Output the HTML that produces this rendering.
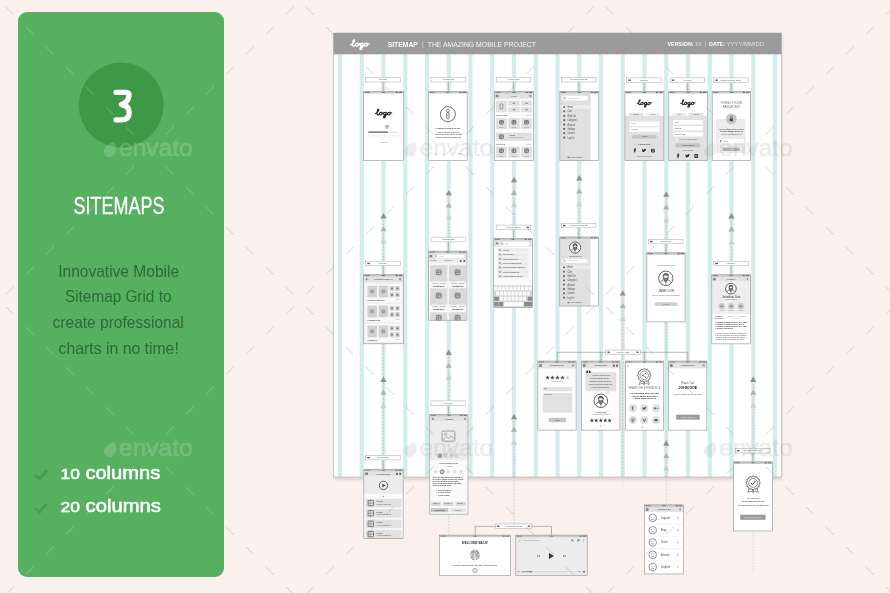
<!DOCTYPE html>
<html><head><meta charset="utf-8"><title>Sitemaps</title>
<style>
html,body{margin:0;padding:0;background:#faf1ee;}
body{width:890px;height:593px;overflow:hidden;font-family:"Liberation Sans",sans-serif;}
svg{display:block;will-change:transform}
</style></head><body>
<svg width="890" height="593" viewBox="0 0 890 593">
<defs>
<filter id="bs" x="-5%" y="-5%" width="110%" height="110%"><feGaussianBlur stdDeviation="1.6"/></filter>
</defs>
<rect x="0" y="0" width="890" height="593" fill="#faf1ee"/>
<rect x="18" y="12" width="206" height="565" fill="#57b060" rx="9"/>
<circle cx="121.2" cy="104.9" r="42.5" fill="#3d9946"/>
<path d="M116,92.3 L126.3,92.3 Q129.4,92.3 129,95.4 Q128.2,102.8 121.4,104.5 Q129.5,105.6 129.2,112.8 Q128.9,119.8 121.6,119.8 L116,119.8" fill="none" stroke="#fff" stroke-width="5.3" stroke-linecap="round" stroke-linejoin="round"/>
<text x="73.6" y="214.2" font-family="Liberation Sans" font-size="23.4" fill="#fff" font-weight="normal" font-style="normal" text-anchor="start" textLength="90.8" lengthAdjust="spacingAndGlyphs" stroke="#fff" stroke-width="0.3">SITEMAPS</text>
<text id="p0" x="58.2" y="276.70" font-family="Liberation Sans" font-size="16.6" fill="#2e6a36" textLength="120.9" lengthAdjust="spacingAndGlyphs">Innovative Mobile</text>
<text id="p1" x="65" y="302.45" font-family="Liberation Sans" font-size="16.6" fill="#2e6a36" textLength="106.4" lengthAdjust="spacingAndGlyphs">Sitemap Grid to</text>
<text id="p2" x="52.6" y="328.20" font-family="Liberation Sans" font-size="16.6" fill="#2e6a36" textLength="131.2" lengthAdjust="spacingAndGlyphs">create professional</text>
<text id="p3" x="58.6" y="353.95" font-family="Liberation Sans" font-size="16.6" fill="#2e6a36" textLength="120.2" lengthAdjust="spacingAndGlyphs">charts in no time!</text>
<text id="b0" x="60.5" y="478.8" font-family="Liberation Sans" fill="#fff" stroke="#fff" stroke-width="0.55" font-size="17.6" textLength="99.7" lengthAdjust="spacingAndGlyphs"><tspan font-size="15.2">10</tspan> columns</text>
<path d="M35.6,475.4 L39.6,478.7 L46.2,471.2" fill="none" stroke="#4a994f" stroke-width="2.6" stroke-linecap="round" stroke-linejoin="round"/>
<text id="b1" x="60.5" y="512.2" font-family="Liberation Sans" fill="#fff" stroke="#fff" stroke-width="0.55" font-size="17.6" textLength="100.5" lengthAdjust="spacingAndGlyphs"><tspan font-size="15.2">20</tspan> columns</text>
<path d="M35.6,508.8 L39.6,512.1 L46.2,504.6" fill="none" stroke="#4a994f" stroke-width="2.6" stroke-linecap="round" stroke-linejoin="round"/>
<rect x="334" y="35.5" width="448" height="444" fill="#8a7f7a" opacity="0.3" filter="url(#bs)"/>
<rect x="333.5" y="33" width="448" height="444" fill="#fff"/>
<rect x="337.9" y="54" width="4.2" height="423" fill="#d6ecec"/>
<rect x="359.65" y="54" width="4.2" height="423" fill="#d6ecec"/>
<rect x="381.4" y="54" width="4.2" height="423" fill="#d6ecec"/>
<rect x="403.15" y="54" width="4.2" height="423" fill="#d6ecec"/>
<rect x="424.9" y="54" width="4.2" height="423" fill="#d6ecec"/>
<rect x="446.65" y="54" width="4.2" height="423" fill="#d6ecec"/>
<rect x="468.4" y="54" width="4.2" height="423" fill="#d6ecec"/>
<rect x="490.15" y="54" width="4.2" height="423" fill="#d6ecec"/>
<rect x="511.9" y="54" width="4.2" height="423" fill="#d6ecec"/>
<rect x="533.65" y="54" width="4.2" height="423" fill="#d6ecec"/>
<rect x="555.4" y="54" width="4.2" height="423" fill="#d6ecec"/>
<rect x="577.15" y="54" width="4.2" height="423" fill="#d6ecec"/>
<rect x="598.9" y="54" width="4.2" height="423" fill="#d6ecec"/>
<rect x="620.65" y="54" width="4.2" height="423" fill="#d6ecec"/>
<rect x="642.4" y="54" width="4.2" height="423" fill="#d6ecec"/>
<rect x="664.15" y="54" width="4.2" height="423" fill="#d6ecec"/>
<rect x="685.9" y="54" width="4.2" height="423" fill="#d6ecec"/>
<rect x="707.65" y="54" width="4.2" height="423" fill="#d6ecec"/>
<rect x="729.4" y="54" width="4.2" height="423" fill="#d6ecec"/>
<rect x="751.15" y="54" width="4.2" height="423" fill="#d6ecec"/>
<rect x="772.9" y="54" width="4.2" height="423" fill="#d6ecec"/>
<rect x="333.5" y="33" width="448" height="444" fill="none" stroke="#c4c0be" stroke-width="0.8"/>
<rect x="333.5" y="33" width="448" height="21.3" fill="#9b9b9b"/>
<text x="387.7" y="47.3" font-family="Liberation Sans" font-size="7.3" fill="#fff" font-weight="bold" font-style="normal" text-anchor="start" textLength="30.1" lengthAdjust="spacingAndGlyphs">SITEMAP</text>
<rect x="422.5" y="41.2" width="0.6" height="6.6" fill="#d8d8d8"/>
<text x="427.7" y="47.3" font-family="Liberation Sans" font-size="7.3" fill="#f7f7f7" font-weight="normal" font-style="normal" text-anchor="start" textLength="108.3" lengthAdjust="spacingAndGlyphs">THE AMAZING MOBILE PROJECT</text>
<text x="667.5" y="46.1" font-family="Liberation Sans" font-size="5.8" fill="#fff" font-weight="bold" font-style="normal" text-anchor="start" textLength="26.1" lengthAdjust="spacingAndGlyphs">VERSION:</text>
<text x="695.3" y="46.1" font-family="Liberation Sans" font-size="5.8" fill="#e4e4e4" font-weight="normal" font-style="normal" text-anchor="start" textLength="6.2" lengthAdjust="spacingAndGlyphs">XX</text>
<rect x="705.1" y="41.4" width="0.6" height="5.4" fill="#dcdcdc"/>
<text x="709.1" y="46.1" font-family="Liberation Sans" font-size="5.8" fill="#fff" font-weight="bold" font-style="normal" text-anchor="start" textLength="16" lengthAdjust="spacingAndGlyphs">DATE:</text>
<text x="726.8" y="46.1" font-family="Liberation Sans" font-size="5.8" fill="#e4e4e4" font-weight="normal" font-style="normal" text-anchor="start" textLength="37.1" lengthAdjust="spacingAndGlyphs">YYYY/MM/DD</text>
<line x1="383.5" y1="214" x2="383.5" y2="261.2" stroke="#a4a4a4" stroke-width="0.5" stroke-dasharray="1.8 1.4"/>
<line x1="383.5" y1="343.7" x2="383.5" y2="455.3" stroke="#a4a4a4" stroke-width="0.5" stroke-dasharray="1.8 1.4"/>
<line x1="448.75" y1="191" x2="448.75" y2="237.1" stroke="#a4a4a4" stroke-width="0.5" stroke-dasharray="1.8 1.4"/>
<line x1="448.75" y1="350.5" x2="448.75" y2="400.8" stroke="#a4a4a4" stroke-width="0.5" stroke-dasharray="1.8 1.4"/>
<line x1="448.75" y1="514.5" x2="448.75" y2="534.8" stroke="#b3aba8" stroke-width="0.5" stroke-dasharray="1.8 1.4"/>
<line x1="514" y1="178" x2="514" y2="225.1" stroke="#a4a4a4" stroke-width="0.5" stroke-dasharray="1.8 1.4"/>
<line x1="514" y1="414.5" x2="514" y2="477" stroke="#a4a4a4" stroke-width="0.5" stroke-dasharray="1.8 1.4"/>
<line x1="514" y1="477" x2="514" y2="524" stroke="#b3aba8" stroke-width="0.5" stroke-dasharray="1.8 1.4"/>
<line x1="579.25" y1="176" x2="579.25" y2="223.3" stroke="#a4a4a4" stroke-width="0.5" stroke-dasharray="1.8 1.4"/>
<line x1="666.25" y1="192.5" x2="666.25" y2="239.3" stroke="#a4a4a4" stroke-width="0.5" stroke-dasharray="1.8 1.4"/>
<line x1="666.25" y1="322.2" x2="666.25" y2="360" stroke="#a4a4a4" stroke-width="0.5" stroke-dasharray="1.8 1.4"/>
<line x1="666.25" y1="430.3" x2="666.25" y2="477" stroke="#a4a4a4" stroke-width="0.5" stroke-dasharray="1.8 1.4"/>
<line x1="666.25" y1="477" x2="666.25" y2="504.5" stroke="#b3aba8" stroke-width="0.5" stroke-dasharray="1.8 1.4"/>
<line x1="731.5" y1="214" x2="731.5" y2="261.2" stroke="#a4a4a4" stroke-width="0.5" stroke-dasharray="1.8 1.4"/>
<line x1="622.75" y1="291" x2="622.75" y2="477" stroke="#a4a4a4" stroke-width="0.5" stroke-dasharray="1.8 1.4"/>
<line x1="622.75" y1="477" x2="622.75" y2="487" stroke="#cfc7c4" stroke-width="0.5" stroke-dasharray="1.8 1.4"/>
<line x1="753.25" y1="377" x2="753.25" y2="448.5" stroke="#a4a4a4" stroke-width="0.5" stroke-dasharray="1.8 1.4"/>
<line x1="753.25" y1="530.3" x2="753.25" y2="572" stroke="#c4bcb9" stroke-width="0.5" stroke-dasharray="1.8 1.4"/>
<path d="M383.5,213.1 L386.6,218.5 L380.4,218.5 Z" fill="#8f8f8f" />
<path d="M383.5,225.9 L386.6,231.3 L380.4,231.3 Z" fill="#b2b2b2" />
<path d="M383.5,238.1 L386.6,243.5 L380.4,243.5 Z" fill="#d0d0d0" />
<path d="M383.5,376.6 L386.6,382 L380.4,382 Z" fill="#8f8f8f" />
<path d="M383.5,389.4 L386.6,394.8 L380.4,394.8 Z" fill="#b2b2b2" />
<path d="M383.5,402.7 L386.6,408.1 L380.4,408.1 Z" fill="#d0d0d0" />
<path d="M448.75,189.9 L451.85,195.3 L445.65,195.3 Z" fill="#8f8f8f" />
<path d="M448.75,202.2 L451.85,207.6 L445.65,207.6 Z" fill="#b2b2b2" />
<path d="M448.75,214 L451.85,219.4 L445.65,219.4 Z" fill="#d0d0d0" />
<path d="M448.75,349.6 L451.85,355 L445.65,355 Z" fill="#8f8f8f" />
<path d="M448.75,362.4 L451.85,367.8 L445.65,367.8 Z" fill="#b2b2b2" />
<path d="M448.75,374.3 L451.85,379.7 L445.65,379.7 Z" fill="#d0d0d0" />
<path d="M514,176.8 L517.1,182.2 L510.9,182.2 Z" fill="#8f8f8f" />
<path d="M514,189.7 L517.1,195.1 L510.9,195.1 Z" fill="#b2b2b2" />
<path d="M514,201.7 L517.1,207.1 L510.9,207.1 Z" fill="#d0d0d0" />
<path d="M514,413.9 L517.1,419.3 L510.9,419.3 Z" fill="#8f8f8f" />
<path d="M514,426.4 L517.1,431.8 L510.9,431.8 Z" fill="#b2b2b2" />
<path d="M514,439.2 L517.1,444.6 L510.9,444.6 Z" fill="#d0d0d0" />
<path d="M579.25,175 L582.35,180.4 L576.15,180.4 Z" fill="#8f8f8f" />
<path d="M579.25,188.2 L582.35,193.6 L576.15,193.6 Z" fill="#b2b2b2" />
<path d="M579.25,201 L582.35,206.4 L576.15,206.4 Z" fill="#d0d0d0" />
<path d="M666.25,191.4 L669.35,196.8 L663.15,196.8 Z" fill="#8f8f8f" />
<path d="M666.25,204.1 L669.35,209.5 L663.15,209.5 Z" fill="#b2b2b2" />
<path d="M666.25,216.9 L669.35,222.3 L663.15,222.3 Z" fill="#d0d0d0" />
<path d="M666.25,440.3 L669.35,445.7 L663.15,445.7 Z" fill="#8f8f8f" />
<path d="M666.25,452.9 L669.35,458.3 L663.15,458.3 Z" fill="#b2b2b2" />
<path d="M666.25,465.4 L669.35,470.8 L663.15,470.8 Z" fill="#d0d0d0" />
<path d="M731.5,213 L734.6,218.4 L728.4,218.4 Z" fill="#8f8f8f" />
<path d="M731.5,226 L734.6,231.4 L728.4,231.4 Z" fill="#b2b2b2" />
<path d="M731.5,238.8 L734.6,244.2 L728.4,244.2 Z" fill="#d0d0d0" />
<path d="M622.75,290.2 L625.85,295.6 L619.65,295.6 Z" fill="#8f8f8f" />
<path d="M622.75,302.9 L625.85,308.3 L619.65,308.3 Z" fill="#b2b2b2" />
<path d="M622.75,315.6 L625.85,321 L619.65,321 Z" fill="#d0d0d0" />
<path d="M753.25,376.5 L756.35,381.9 L750.15,381.9 Z" fill="#8f8f8f" />
<path d="M753.25,389.3 L756.35,394.7 L750.15,394.7 Z" fill="#b2b2b2" />
<path d="M753.25,402.3 L756.35,407.7 L750.15,407.7 Z" fill="#d0d0d0" />
<line x1="557.2" y1="352.3" x2="687.8" y2="352.3" stroke="#8c8c8c" stroke-width="0.6"/>
<line x1="557.2" y1="352.3" x2="557.2" y2="360.7" stroke="#8c8c8c" stroke-width="0.6"/>
<line x1="600.9" y1="352.3" x2="600.9" y2="360.7" stroke="#8c8c8c" stroke-width="0.6"/>
<line x1="644.3" y1="352.3" x2="644.3" y2="360.7" stroke="#8c8c8c" stroke-width="0.6"/>
<line x1="687.8" y1="352.3" x2="687.8" y2="360.7" stroke="#8c8c8c" stroke-width="0.6"/>
<line x1="475.2" y1="526.4" x2="551.5" y2="526.4" stroke="#8c8c8c" stroke-width="0.6"/>
<line x1="475.2" y1="526.4" x2="475.2" y2="534.8" stroke="#8c8c8c" stroke-width="0.6"/>
<line x1="551.5" y1="526.4" x2="551.5" y2="534.8" stroke="#8c8c8c" stroke-width="0.6"/>
<line x1="383.1" y1="82" x2="383.1" y2="91.1" stroke="#8c8c8c" stroke-width="0.6"/>
<rect x="365.65" y="77.4" width="34.6" height="4.6" fill="#fff" stroke="#adadad" stroke-width="0.55"/>
<text x="378.95" y="80.37" font-family="Liberation Sans" font-size="2.5" font-weight="bold" fill="#7c7c7c" textLength="8" lengthAdjust="spacingAndGlyphs">Lorem</text>
<g transform="translate(363.3,91.1)">
<rect x="0.2" y="0.2" width="40" height="69.4" fill="#fff"/>
<path d="M0.3,4.7 C1.8,4.3 3.7,1.7 3.6,0.7 C3.5,-0.1 2.7,0.3 2.4,1.5 C1.9,3.3 1.6,5.6 2.6,5.9 C3.2,6.1 3.8,5.6 4.2,5.0 M6.6,3.4 C5.2,2.8 4.0,4.2 4.4,5.4 C4.8,6.4 6.6,6.0 7.0,4.6 C7.2,3.8 6.8,3.3 6.4,3.4 C6.6,4.2 7.6,4.3 8.4,3.9 M10.9,3.5 C9.6,2.8 8.2,4.0 8.5,5.2 C8.8,6.3 10.4,5.9 10.9,4.4 L11.1,3.4 C10.9,5.0 10.7,7.4 9.8,8.5 C9.0,9.3 8.1,8.6 8.6,7.6 C9.2,6.6 11.4,6.0 12.4,5.0 M14.7,3.4 C13.3,2.8 12.1,4.2 12.5,5.4 C12.9,6.4 14.7,6.0 15.1,4.6 C15.3,3.8 14.9,3.3 14.5,3.4 C14.7,4.2 15.7,4.3 16.6,3.8" transform="translate(11.8,17.9) scale(1)" fill="none" stroke="#222" stroke-width="1.15" stroke-linecap="round" stroke-linejoin="round"/>
<circle cx="23.8" cy="35.7" r="2.3" fill="#c4c4c4"/>
<rect x="23" y="35.35" width="1.6" height="0.7" fill="#888"/>
<rect x="5.1" y="40.4" width="19.4" height="1.2" fill="#555"/>
<rect x="24.5" y="40.6" width="10.6" height="0.8" fill="#cfcfcf"/>
<line x1="5.3" y1="43.8" x2="5.3" y2="46.3" stroke="#c4c4c4" stroke-width="0.4"/>
<line x1="8" y1="43.8" x2="8" y2="46.3" stroke="#c4c4c4" stroke-width="0.4"/>
<line x1="10.7" y1="43.8" x2="10.7" y2="46.3" stroke="#c4c4c4" stroke-width="0.4"/>
<line x1="13.4" y1="43.8" x2="13.4" y2="46.3" stroke="#c4c4c4" stroke-width="0.4"/>
<line x1="16.1" y1="43.8" x2="16.1" y2="46.3" stroke="#c4c4c4" stroke-width="0.4"/>
<line x1="18.8" y1="43.8" x2="18.8" y2="46.3" stroke="#c4c4c4" stroke-width="0.4"/>
<line x1="21.5" y1="43.8" x2="21.5" y2="46.3" stroke="#c4c4c4" stroke-width="0.4"/>
<line x1="24.2" y1="43.8" x2="24.2" y2="46.3" stroke="#c4c4c4" stroke-width="0.4"/>
<line x1="26.9" y1="43.8" x2="26.9" y2="46.3" stroke="#c4c4c4" stroke-width="0.4"/>
<line x1="29.6" y1="43.8" x2="29.6" y2="46.3" stroke="#c4c4c4" stroke-width="0.4"/>
<line x1="32.3" y1="43.8" x2="32.3" y2="46.3" stroke="#c4c4c4" stroke-width="0.4"/>
<line x1="35" y1="43.8" x2="35" y2="46.3" stroke="#c4c4c4" stroke-width="0.4"/>
<text x="16" y="51.42" font-family="Liberation Sans" font-size="2.29" font-weight="bold" fill="#9a9a9a" textLength="8.5" lengthAdjust="spacingAndGlyphs">Lorem i</text>
<rect x="0.3" y="0.3" width="39.8" height="2.1" fill="#c9c9c9"/>
<rect x="1.4" y="0.8" width="5.2" height="0.9" fill="#777"/>
<rect x="18.6" y="0.8" width="3.2" height="0.9" fill="#666"/>
<rect x="32.4" y="0.75" width="2" height="1" fill="#555"/>
<rect x="35.6" y="0.75" width="3.2" height="1" fill="#666"/>
<rect x="0.35" y="0.35" width="39.7" height="69.1" fill="none" stroke="#a0a0a0" stroke-width="0.7"/>
</g>
<line x1="448.35" y1="82" x2="448.35" y2="91.1" stroke="#8c8c8c" stroke-width="0.6"/>
<rect x="430.9" y="77.4" width="34.6" height="4.6" fill="#fff" stroke="#adadad" stroke-width="0.55"/>
<text x="442.2" y="80.37" font-family="Liberation Sans" font-size="2.5" font-weight="bold" fill="#7c7c7c" textLength="12" lengthAdjust="spacingAndGlyphs">Lorem ipsu</text>
<g transform="translate(428.3,91.1)">
<rect x="0.2" y="0.2" width="38.8" height="69.4" fill="#fff"/>
<circle cx="19.6" cy="23.1" r="7.5" fill="#fff" stroke="#333" stroke-width="0.7"/>
<rect x="18.5" y="18.2" width="2.2" height="3.2" fill="none" rx="1" stroke="#333" stroke-width="0.55"/>
<rect x="18.3" y="21.6" width="2.6" height="6.2" fill="none" rx="1.2" stroke="#333" stroke-width="0.55"/>
<line x1="19.6" y1="23" x2="19.6" y2="26" stroke="#333" stroke-width="0.4"/>
<circle cx="8.5" cy="17" r="0.35" fill="#c8c8c8"/>
<circle cx="10" cy="25" r="0.35" fill="#c8c8c8"/>
<circle cx="11.5" cy="31" r="0.35" fill="#c8c8c8"/>
<circle cx="28.5" cy="15.5" r="0.35" fill="#c8c8c8"/>
<circle cx="30.5" cy="22" r="0.35" fill="#c8c8c8"/>
<circle cx="29" cy="30" r="0.35" fill="#c8c8c8"/>
<circle cx="14" cy="13.5" r="0.35" fill="#c8c8c8"/>
<circle cx="25" cy="33" r="0.35" fill="#c8c8c8"/>
<text x="7.3" y="37.61" font-family="Liberation Sans" font-size="2.25" font-weight="bold" fill="#3a3a3a" textLength="24.6" lengthAdjust="spacingAndGlyphs">LOREM IPSUM DOLOR</text>
<text x="8.5" y="41.52" font-family="Liberation Sans" font-size="2.29" font-weight="bold" fill="#555" textLength="22.5" lengthAdjust="spacingAndGlyphs">Lorem ipsum dolor si</text>
<text x="6.4" y="44.12" font-family="Liberation Sans" font-size="2.29" font-weight="bold" fill="#555" textLength="27.6" lengthAdjust="spacingAndGlyphs">Lorem ipsum dolor sit am</text>
<text x="7" y="46.92" font-family="Liberation Sans" font-size="2.29" font-weight="bold" fill="#555" textLength="25.5" lengthAdjust="spacingAndGlyphs">Lorem ipsum dolor sit</text>
<rect x="6.3" y="62.35" width="2" height="0.7" fill="#bbb"/>
<circle cx="16.6" cy="62.7" r="0.5" fill="#999"/>
<rect x="30" y="62.35" width="2.6" height="0.7" fill="#999"/>
<rect x="0.3" y="0.3" width="38.6" height="2.1" fill="#c9c9c9"/>
<rect x="1.4" y="0.8" width="5.2" height="0.9" fill="#777"/>
<rect x="18" y="0.8" width="3.2" height="0.9" fill="#666"/>
<rect x="31.2" y="0.75" width="2" height="1" fill="#555"/>
<rect x="34.4" y="0.75" width="3.2" height="1" fill="#666"/>
<rect x="0.35" y="0.35" width="38.5" height="69.1" fill="none" stroke="#a0a0a0" stroke-width="0.7"/>
</g>
<line x1="513.6" y1="82" x2="513.6" y2="91.1" stroke="#8c8c8c" stroke-width="0.6"/>
<rect x="496.15" y="77.4" width="34.6" height="4.6" fill="#fff" stroke="#adadad" stroke-width="0.55"/>
<text x="507.45" y="80.37" font-family="Liberation Sans" font-size="2.5" font-weight="bold" fill="#7c7c7c" textLength="12" lengthAdjust="spacingAndGlyphs">Lorem ipsu</text>
<g transform="translate(494.1,91.1)">
<rect x="0.2" y="0.2" width="39.2" height="69.4" fill="#fbfbfb"/>
<rect x="0" y="2.2" width="39.6" height="5.4" fill="#e2e2e2"/>
<rect x="1.7" y="3.78" width="2.6" height="0.55" fill="#444"/>
<rect x="1.7" y="4.62" width="2.6" height="0.55" fill="#444"/>
<rect x="1.7" y="5.47" width="2.6" height="0.55" fill="#444"/>
<text x="17.3" y="5.67" font-family="Liberation Sans" font-size="2.15" font-weight="bold" fill="#5c5c5c" textLength="5" lengthAdjust="spacingAndGlyphs">LORE</text>
<circle cx="36" cy="4.7" r="0.8" fill="none" stroke="#555" stroke-width="0.45"/>
<line x1="36.6" y1="5.3" x2="37.3" y2="6" stroke="#555" stroke-width="0.5"/>
<rect x="1.9" y="9.6" width="10.9" height="11.5" fill="#e0e0e0"/>
<rect x="6" y="12.8" width="2.7" height="5" fill="none" rx="0.7" stroke="#666" stroke-width="0.6"/>
<rect x="14.1" y="9.6" width="11.5" height="5.1" fill="#e0e0e0"/>
<rect x="18.65" y="11.55" width="2.4" height="1.2" fill="#8a8a8a"/>
<rect x="14.1" y="16" width="11.5" height="5.1" fill="#e0e0e0"/>
<rect x="18.65" y="17.95" width="2.4" height="1.2" fill="#8a8a8a"/>
<rect x="27" y="9.6" width="10.8" height="5.1" fill="#e0e0e0"/>
<rect x="31.2" y="11.55" width="2.4" height="1.2" fill="#8a8a8a"/>
<rect x="27" y="16" width="10.8" height="5.1" fill="#e0e0e0"/>
<rect x="31.2" y="17.95" width="2.4" height="1.2" fill="#8a8a8a"/>
<text x="1.85" y="25.02" font-family="Liberation Sans" font-size="2.29" font-weight="bold" fill="#666" textLength="11.15" lengthAdjust="spacingAndGlyphs">Lorem ipsu</text>
<text x="32" y="24.88" font-family="Liberation Sans" font-size="1.78" font-weight="bold" fill="#bcbcbc" textLength="5" lengthAdjust="spacingAndGlyphs">Lorem</text>
<rect x="1.9" y="27" width="10.9" height="10.9" fill="#e0e0e0"/>
<rect x="5.5" y="29.35" width="3.7" height="3.7" fill="none" rx="0.44" stroke="#555" stroke-width="0.7"/>
<line x1="5.5" y1="31.38" x2="9.2" y2="31.38" stroke="#555" stroke-width="0.56"/>
<line x1="6.91" y1="29.35" x2="6.91" y2="33.05" stroke="#555" stroke-width="0.56"/>
<line x1="6.91" y1="30.46" x2="9.2" y2="30.46" stroke="#555" stroke-width="0.49"/>
<text x="5.15" y="36.68" font-family="Liberation Sans" font-size="1.78" font-weight="bold" fill="#888" textLength="4.4" lengthAdjust="spacingAndGlyphs">Lorem</text>
<rect x="14.1" y="27" width="11.5" height="10.9" fill="#e0e0e0"/>
<rect x="18" y="29.35" width="3.7" height="3.7" fill="none" rx="0.44" stroke="#555" stroke-width="0.7"/>
<line x1="18" y1="31.38" x2="21.7" y2="31.38" stroke="#555" stroke-width="0.56"/>
<line x1="19.41" y1="29.35" x2="19.41" y2="33.05" stroke="#555" stroke-width="0.56"/>
<line x1="19.41" y1="30.46" x2="21.7" y2="30.46" stroke="#555" stroke-width="0.49"/>
<text x="17.65" y="36.68" font-family="Liberation Sans" font-size="1.78" font-weight="bold" fill="#888" textLength="4.4" lengthAdjust="spacingAndGlyphs">Lorem</text>
<rect x="27" y="27" width="10.8" height="10.9" fill="#e0e0e0"/>
<rect x="30.55" y="29.35" width="3.7" height="3.7" fill="none" rx="0.44" stroke="#555" stroke-width="0.7"/>
<line x1="30.55" y1="31.38" x2="34.25" y2="31.38" stroke="#555" stroke-width="0.56"/>
<line x1="31.96" y1="29.35" x2="31.96" y2="33.05" stroke="#555" stroke-width="0.56"/>
<line x1="31.96" y1="30.46" x2="34.25" y2="30.46" stroke="#555" stroke-width="0.49"/>
<text x="30.2" y="36.68" font-family="Liberation Sans" font-size="1.78" font-weight="bold" fill="#888" textLength="4.4" lengthAdjust="spacingAndGlyphs">Lorem</text>
<rect x="1.9" y="41.6" width="35.9" height="8.1" fill="#e0e0e0"/>
<rect x="5.35" y="43.65" width="3.9" height="3.9" fill="none" rx="0.47" stroke="#555" stroke-width="0.7"/>
<line x1="5.35" y1="45.8" x2="9.25" y2="45.8" stroke="#555" stroke-width="0.56"/>
<line x1="6.83" y1="43.65" x2="6.83" y2="47.55" stroke="#555" stroke-width="0.56"/>
<line x1="6.83" y1="44.82" x2="9.25" y2="44.82" stroke="#555" stroke-width="0.49"/>
<text x="15.5" y="45.22" font-family="Liberation Sans" font-size="2.29" font-weight="bold" fill="#555" textLength="5.5" lengthAdjust="spacingAndGlyphs">Lorem</text>
<text x="15.5" y="47.28" font-family="Liberation Sans" font-size="1.78" font-weight="bold" fill="#999" textLength="13.5" lengthAdjust="spacingAndGlyphs">Lorem ipsum dol</text>
<text x="1.85" y="53.72" font-family="Liberation Sans" font-size="2.29" font-weight="bold" fill="#666" textLength="9.15" lengthAdjust="spacingAndGlyphs">Lorem ip</text>
<text x="32" y="53.58" font-family="Liberation Sans" font-size="1.78" font-weight="bold" fill="#bcbcbc" textLength="5" lengthAdjust="spacingAndGlyphs">Lorem</text>
<rect x="1.9" y="55.6" width="10.9" height="11" fill="#e0e0e0"/>
<rect x="5.5" y="57.75" width="3.7" height="3.7" fill="none" rx="0.44" stroke="#555" stroke-width="0.7"/>
<line x1="5.5" y1="59.79" x2="9.2" y2="59.79" stroke="#555" stroke-width="0.56"/>
<line x1="6.91" y1="57.75" x2="6.91" y2="61.45" stroke="#555" stroke-width="0.56"/>
<line x1="6.91" y1="58.86" x2="9.2" y2="58.86" stroke="#555" stroke-width="0.49"/>
<text x="5.15" y="65.48" font-family="Liberation Sans" font-size="1.78" font-weight="bold" fill="#888" textLength="4.4" lengthAdjust="spacingAndGlyphs">Lorem</text>
<rect x="14.1" y="55.6" width="11.5" height="11" fill="#e0e0e0"/>
<rect x="18" y="57.75" width="3.7" height="3.7" fill="none" rx="0.44" stroke="#555" stroke-width="0.7"/>
<line x1="18" y1="59.79" x2="21.7" y2="59.79" stroke="#555" stroke-width="0.56"/>
<line x1="19.41" y1="57.75" x2="19.41" y2="61.45" stroke="#555" stroke-width="0.56"/>
<line x1="19.41" y1="58.86" x2="21.7" y2="58.86" stroke="#555" stroke-width="0.49"/>
<text x="17.65" y="65.48" font-family="Liberation Sans" font-size="1.78" font-weight="bold" fill="#888" textLength="4.4" lengthAdjust="spacingAndGlyphs">Lorem</text>
<rect x="27" y="55.6" width="10.8" height="11" fill="#e0e0e0"/>
<rect x="30.55" y="57.75" width="3.7" height="3.7" fill="none" rx="0.44" stroke="#555" stroke-width="0.7"/>
<line x1="30.55" y1="59.79" x2="34.25" y2="59.79" stroke="#555" stroke-width="0.56"/>
<line x1="31.96" y1="57.75" x2="31.96" y2="61.45" stroke="#555" stroke-width="0.56"/>
<line x1="31.96" y1="58.86" x2="34.25" y2="58.86" stroke="#555" stroke-width="0.49"/>
<text x="30.2" y="65.48" font-family="Liberation Sans" font-size="1.78" font-weight="bold" fill="#888" textLength="4.4" lengthAdjust="spacingAndGlyphs">Lorem</text>
<rect x="0.3" y="0.3" width="39" height="2.1" fill="#c9c9c9"/>
<rect x="1.4" y="0.8" width="5.2" height="0.9" fill="#777"/>
<rect x="18.2" y="0.8" width="3.2" height="0.9" fill="#666"/>
<rect x="31.6" y="0.75" width="2" height="1" fill="#555"/>
<rect x="34.8" y="0.75" width="3.2" height="1" fill="#666"/>
<rect x="0.35" y="0.35" width="38.9" height="69.1" fill="none" stroke="#a0a0a0" stroke-width="0.7"/>
</g>
<line x1="578.85" y1="82" x2="578.85" y2="91.1" stroke="#8c8c8c" stroke-width="0.6"/>
<rect x="561.4" y="77.4" width="34.6" height="4.6" fill="#fff" stroke="#adadad" stroke-width="0.55"/>
<text x="570.2" y="80.37" font-family="Liberation Sans" font-size="2.5" font-weight="bold" fill="#7c7c7c" textLength="17" lengthAdjust="spacingAndGlyphs">Lorem ipsum do</text>
<g transform="translate(559.5,91.1)">
<rect x="0.2" y="0.2" width="39.2" height="69.4" fill="#fff"/>
<rect x="0" y="2.2" width="31.3" height="67.6" fill="#e0e0e0"/>
<rect x="2.2" y="4.7" width="26.1" height="4.6" fill="#fff" rx="2.3"/>
<circle cx="4.8" cy="6.8" r="0.8" fill="none" stroke="#666" stroke-width="0.45"/>
<line x1="5.4" y1="7.4" x2="6.1" y2="8.1" stroke="#666" stroke-width="0.5"/>
<text x="8" y="7.55" font-family="Liberation Sans" font-size="2.04" font-weight="bold" fill="#c4c4c4" textLength="12" lengthAdjust="spacingAndGlyphs">Lorem ipsum</text>
<rect x="0" y="14" width="31.3" height="4" fill="#ececec"/>
<rect x="3.8" y="15.1" width="1.8" height="1.8" fill="#555" rx="0.4"/>
<text x="8.1" y="17.2" font-family="Liberation Sans" font-size="2.55" fill="#4a4a4a" font-weight="normal" font-style="normal" text-anchor="start" textLength="5.4" lengthAdjust="spacingAndGlyphs">Home</text>
<rect x="3.8" y="19.3" width="1.8" height="1.8" fill="#555" rx="0.4"/>
<text x="8.1" y="21.4" font-family="Liberation Sans" font-size="2.55" fill="#4a4a4a" font-weight="normal" font-style="normal" text-anchor="start" textLength="4.2" lengthAdjust="spacingAndGlyphs">Cart</text>
<rect x="3.8" y="23.9" width="1.8" height="1.8" fill="#555" rx="0.4"/>
<text x="8.1" y="26" font-family="Liberation Sans" font-size="2.55" fill="#4a4a4a" font-weight="normal" font-style="normal" text-anchor="start" textLength="8.2" lengthAdjust="spacingAndGlyphs">Wish List</text>
<rect x="3.8" y="28.1" width="1.8" height="1.8" fill="#555" rx="0.4"/>
<text x="8.1" y="30.2" font-family="Liberation Sans" font-size="2.55" fill="#4a4a4a" font-weight="normal" font-style="normal" text-anchor="start" textLength="9.2" lengthAdjust="spacingAndGlyphs">Categories</text>
<rect x="3.8" y="32.5" width="1.8" height="1.8" fill="#555" rx="0.4"/>
<text x="8.1" y="34.6" font-family="Liberation Sans" font-size="2.55" fill="#4a4a4a" font-weight="normal" font-style="normal" text-anchor="start" textLength="7.4" lengthAdjust="spacingAndGlyphs">Account</text>
<rect x="3.8" y="36.9" width="1.8" height="1.8" fill="#555" rx="0.4"/>
<text x="8.1" y="39" font-family="Liberation Sans" font-size="2.55" fill="#4a4a4a" font-weight="normal" font-style="normal" text-anchor="start" textLength="7.4" lengthAdjust="spacingAndGlyphs">Settings</text>
<rect x="3.8" y="41.1" width="1.8" height="1.8" fill="#555" rx="0.4"/>
<text x="8.1" y="43.2" font-family="Liberation Sans" font-size="2.55" fill="#4a4a4a" font-weight="normal" font-style="normal" text-anchor="start" textLength="7" lengthAdjust="spacingAndGlyphs">Contact</text>
<rect x="3.8" y="45.5" width="1.8" height="1.8" fill="#555" rx="0.4"/>
<text x="8.1" y="47.6" font-family="Liberation Sans" font-size="2.55" fill="#4a4a4a" font-weight="normal" font-style="normal" text-anchor="start" textLength="6.8" lengthAdjust="spacingAndGlyphs">Log Out</text>
<text x="9.8" y="66.79" font-family="Liberation Sans" font-size="2.17" font-weight="bold" fill="#6a6a6a" textLength="13.2" lengthAdjust="spacingAndGlyphs">Lorem ipsum</text>
<rect x="8.1" y="65.5" width="1.3" height="1.3" fill="#666"/>
<rect x="0.3" y="0.3" width="39" height="2.1" fill="#c9c9c9"/>
<rect x="1.4" y="0.8" width="5.2" height="0.9" fill="#777"/>
<rect x="18.2" y="0.8" width="3.2" height="0.9" fill="#666"/>
<rect x="31.6" y="0.75" width="2" height="1" fill="#555"/>
<rect x="34.8" y="0.75" width="3.2" height="1" fill="#666"/>
<rect x="0.35" y="0.35" width="38.9" height="69.1" fill="none" stroke="#a0a0a0" stroke-width="0.7"/>
</g>
<line x1="644.1" y1="82.5" x2="644.1" y2="91.1" stroke="#8c8c8c" stroke-width="0.6"/>
<rect x="626.65" y="77.9" width="34.6" height="4.6" fill="#fff" stroke="#adadad" stroke-width="0.55"/>
<text x="639.95" y="80.87" font-family="Liberation Sans" font-size="2.5" font-weight="bold" fill="#7c7c7c" textLength="8" lengthAdjust="spacingAndGlyphs">Lorem</text>
<rect x="628.25" y="79.55" width="2.6" height="1.3" fill="#555"/>
<g transform="translate(624.6,91.1)">
<rect x="0.2" y="0.2" width="39.2" height="69.4" fill="#fefefe"/>
<path d="M0.3,4.7 C1.8,4.3 3.7,1.7 3.6,0.7 C3.5,-0.1 2.7,0.3 2.4,1.5 C1.9,3.3 1.6,5.6 2.6,5.9 C3.2,6.1 3.8,5.6 4.2,5.0 M6.6,3.4 C5.2,2.8 4.0,4.2 4.4,5.4 C4.8,6.4 6.6,6.0 7.0,4.6 C7.2,3.8 6.8,3.3 6.4,3.4 C6.6,4.2 7.6,4.3 8.4,3.9 M10.9,3.5 C9.6,2.8 8.2,4.0 8.5,5.2 C8.8,6.3 10.4,5.9 10.9,4.4 L11.1,3.4 C10.9,5.0 10.7,7.4 9.8,8.5 C9.0,9.3 8.1,8.6 8.6,7.6 C9.2,6.6 11.4,6.0 12.4,5.0 M14.7,3.4 C13.3,2.8 12.1,4.2 12.5,5.4 C12.9,6.4 14.7,6.0 15.1,4.6 C15.3,3.8 14.9,3.3 14.5,3.4 C14.7,4.2 15.7,4.3 16.6,3.8" transform="translate(12.4,8.4) scale(0.87)" fill="none" stroke="#222" stroke-width="1.15" stroke-linecap="round" stroke-linejoin="round"/>
<rect x="3.9" y="21.7" width="14.8" height="3.1" fill="#e3e3e3"/>
<rect x="20.7" y="21.7" width="14.9" height="3.1" fill="#f0f0f0"/>
<text x="8.6" y="23.89" font-family="Liberation Sans" font-size="2.17" font-weight="bold" fill="#666" textLength="5.4" lengthAdjust="spacingAndGlyphs">Lorem</text>
<text x="25.5" y="23.89" font-family="Liberation Sans" font-size="2.17" font-weight="bold" fill="#888" textLength="5.5" lengthAdjust="spacingAndGlyphs">Lorem</text>
<rect x="0" y="24.8" width="39.6" height="45" fill="#e2e2e2"/>
<rect x="5.2" y="30.3" width="29.4" height="4.8" fill="#fff"/>
<text x="6.8" y="33.29" font-family="Liberation Sans" font-size="2.17" font-weight="bold" fill="#888" textLength="4.2" lengthAdjust="spacingAndGlyphs">Lore</text>
<rect x="5.2" y="36.2" width="29.4" height="4.8" fill="#fff"/>
<text x="6.8" y="39.19" font-family="Liberation Sans" font-size="2.17" font-weight="bold" fill="#888" textLength="6.7" lengthAdjust="spacingAndGlyphs">Lorem</text>
<rect x="7.2" y="43.8" width="25" height="3.9" fill="#c6c6c6" rx="1.95"/>
<text x="17.5" y="46.3" font-family="Liberation Sans" font-size="2.04" font-weight="bold" fill="#666" textLength="5" lengthAdjust="spacingAndGlyphs">Lorem</text>
<line x1="3.5" y1="53.2" x2="36.3" y2="53.2" stroke="#cfcfcf" stroke-width="0.4"/>
<text x="14" y="53.82" font-family="Liberation Sans" font-size="2.29" font-weight="bold" fill="#444" textLength="11.5" lengthAdjust="spacingAndGlyphs">Lorem ipsu</text>
<path d="M11.2,57.6 Q10,57.4 10.1,58.7 L10.1,61.5 M9.2,59.1 L11.2,59.1" fill="none" stroke="#2e2e2e" stroke-width="1.15" />
<path d="M17.3,60.8 Q21.1,61.7 21.3,58.5 L21.8,57.9 L21,57.8 Q19.8,57 19.3,58.8 Q18.1,58.7 17.4,57.7 Q17,59.5 18.1,60.1 Z" fill="#2e2e2e" />
<rect x="26.4" y="57.6" width="3.8" height="3.8" fill="#2e2e2e" rx="0.9"/>
<circle cx="28.3" cy="59.5" r="0.95" fill="none" stroke="#d8d8d8" stroke-width="0.55"/>
<circle cx="29.35" cy="58.45" r="0.3" fill="#d8d8d8"/>
<text x="12.5" y="66.35" font-family="Liberation Sans" font-size="2.04" font-weight="bold" fill="#777" textLength="15" lengthAdjust="spacingAndGlyphs">Lorem ipsum dol</text>
<rect x="0.3" y="0.3" width="39" height="2.1" fill="#c9c9c9"/>
<rect x="1.4" y="0.8" width="5.2" height="0.9" fill="#777"/>
<rect x="18.2" y="0.8" width="3.2" height="0.9" fill="#666"/>
<rect x="31.6" y="0.75" width="2" height="1" fill="#555"/>
<rect x="34.8" y="0.75" width="3.2" height="1" fill="#666"/>
<rect x="0.35" y="0.35" width="38.9" height="69.1" fill="none" stroke="#a0a0a0" stroke-width="0.7"/>
</g>
<line x1="687.6" y1="82.5" x2="687.6" y2="91.1" stroke="#8c8c8c" stroke-width="0.6"/>
<rect x="670.15" y="77.9" width="34.6" height="4.6" fill="#fff" stroke="#adadad" stroke-width="0.55"/>
<text x="683.45" y="80.87" font-family="Liberation Sans" font-size="2.5" font-weight="bold" fill="#7c7c7c" textLength="8" lengthAdjust="spacingAndGlyphs">Lorem</text>
<rect x="671.75" y="79.55" width="2.6" height="1.3" fill="#555"/>
<g transform="translate(668.4,91.1)">
<rect x="0.2" y="0.2" width="38.9" height="69.4" fill="#fefefe"/>
<path d="M0.3,4.7 C1.8,4.3 3.7,1.7 3.6,0.7 C3.5,-0.1 2.7,0.3 2.4,1.5 C1.9,3.3 1.6,5.6 2.6,5.9 C3.2,6.1 3.8,5.6 4.2,5.0 M6.6,3.4 C5.2,2.8 4.0,4.2 4.4,5.4 C4.8,6.4 6.6,6.0 7.0,4.6 C7.2,3.8 6.8,3.3 6.4,3.4 C6.6,4.2 7.6,4.3 8.4,3.9 M10.9,3.5 C9.6,2.8 8.2,4.0 8.5,5.2 C8.8,6.3 10.4,5.9 10.9,4.4 L11.1,3.4 C10.9,5.0 10.7,7.4 9.8,8.5 C9.0,9.3 8.1,8.6 8.6,7.6 C9.2,6.6 11.4,6.0 12.4,5.0 M14.7,3.4 C13.3,2.8 12.1,4.2 12.5,5.4 C12.9,6.4 14.7,6.0 15.1,4.6 C15.3,3.8 14.9,3.3 14.5,3.4 C14.7,4.2 15.7,4.3 16.6,3.8" transform="translate(12.1,8.4) scale(0.87)" fill="none" stroke="#222" stroke-width="1.15" stroke-linecap="round" stroke-linejoin="round"/>
<rect x="3.9" y="21.7" width="14.3" height="3.1" fill="#f0f0f0"/>
<rect x="20.2" y="21.7" width="14.9" height="3.1" fill="#e3e3e3"/>
<text x="8.6" y="23.89" font-family="Liberation Sans" font-size="2.17" font-weight="bold" fill="#888" textLength="5.4" lengthAdjust="spacingAndGlyphs">Lorem</text>
<text x="25" y="23.89" font-family="Liberation Sans" font-size="2.17" font-weight="bold" fill="#666" textLength="5.5" lengthAdjust="spacingAndGlyphs">Lorem</text>
<rect x="0" y="24.8" width="39.3" height="45" fill="#e2e2e2"/>
<rect x="4.7" y="29" width="29.5" height="4.4" fill="#fff"/>
<text x="6.3" y="31.79" font-family="Liberation Sans" font-size="2.17" font-weight="bold" fill="#777" textLength="4" lengthAdjust="spacingAndGlyphs">Lore</text>
<rect x="4.7" y="34.9" width="29.5" height="4.4" fill="#fff"/>
<text x="6.3" y="37.69" font-family="Liberation Sans" font-size="2.17" font-weight="bold" fill="#777" textLength="6.5" lengthAdjust="spacingAndGlyphs">Lorem</text>
<rect x="4.7" y="41" width="29.5" height="4.4" fill="#fff"/>
<text x="6.3" y="43.79" font-family="Liberation Sans" font-size="2.17" font-weight="bold" fill="#777" textLength="10.5" lengthAdjust="spacingAndGlyphs">Lorem ipsu</text>
<rect x="7.6" y="47.5" width="1.8" height="1.8" fill="#fff"/>
<text x="11" y="48.99" font-family="Liberation Sans" font-size="2.17" font-weight="bold" fill="#808080" textLength="17.5" lengthAdjust="spacingAndGlyphs">Lorem ipsum dolo</text>
<rect x="6.9" y="52.2" width="25.3" height="4.3" fill="#c6c6c6" rx="2.15"/>
<text x="13.5" y="54.9" font-family="Liberation Sans" font-size="2.04" font-weight="bold" fill="#666" textLength="12" lengthAdjust="spacingAndGlyphs">Lorem ipsum</text>
<text x="14" y="60.28" font-family="Liberation Sans" font-size="1.78" font-weight="bold" fill="#777" textLength="10.5" lengthAdjust="spacingAndGlyphs">Lorem ipsum</text>
<path d="M10.7,63 Q9.5,62.8 9.6,64.1 L9.6,66.9 M8.7,64.5 L10.7,64.5" fill="none" stroke="#2e2e2e" stroke-width="1.15" />
<path d="M16.9,66.2 Q20.7,67.1 20.9,63.9 L21.4,63.3 L20.6,63.2 Q19.4,62.4 18.9,64.2 Q17.7,64.1 17,63.1 Q16.6,64.9 17.7,65.5 Z" fill="#2e2e2e" />
<rect x="25.9" y="63" width="3.8" height="3.8" fill="#2e2e2e" rx="0.9"/>
<circle cx="27.8" cy="64.9" r="0.95" fill="none" stroke="#d8d8d8" stroke-width="0.55"/>
<circle cx="28.85" cy="63.85" r="0.3" fill="#d8d8d8"/>
<rect x="0.3" y="0.3" width="38.7" height="2.1" fill="#c9c9c9"/>
<rect x="1.4" y="0.8" width="5.2" height="0.9" fill="#777"/>
<rect x="18.05" y="0.8" width="3.2" height="0.9" fill="#666"/>
<rect x="31.3" y="0.75" width="2" height="1" fill="#555"/>
<rect x="34.5" y="0.75" width="3.2" height="1" fill="#666"/>
<rect x="0.35" y="0.35" width="38.6" height="69.1" fill="none" stroke="#a0a0a0" stroke-width="0.7"/>
</g>
<line x1="731.1" y1="82.5" x2="731.1" y2="91.1" stroke="#8c8c8c" stroke-width="0.6"/>
<rect x="713.65" y="77.9" width="34.6" height="4.6" fill="#fff" stroke="#adadad" stroke-width="0.55"/>
<text x="720.45" y="80.87" font-family="Liberation Sans" font-size="2.5" font-weight="bold" fill="#7c7c7c" textLength="21" lengthAdjust="spacingAndGlyphs">Lorem ipsum dolor</text>
<rect x="715.25" y="79.55" width="2.6" height="1.3" fill="#555"/>
<g transform="translate(711.9,91.1)">
<rect x="0.2" y="0.2" width="38.7" height="69.4" fill="#fff"/>
<text x="19.6" y="13.1" font-family="Liberation Sans" font-size="2.8" fill="#6a6a6a" font-weight="normal" font-style="normal" text-anchor="middle" textLength="20.5" lengthAdjust="spacingAndGlyphs">FORGOT YOUR</text>
<text x="19.6" y="16.7" font-family="Liberation Sans" font-size="2.8" fill="#6a6a6a" font-weight="normal" font-style="normal" text-anchor="middle" textLength="17.5" lengthAdjust="spacingAndGlyphs">PASSWORD?</text>
<rect x="4.2" y="28" width="29.5" height="34" fill="#ececec"/>
<circle cx="19.4" cy="27.8" r="5.4" fill="#c6c6c6"/>
<rect x="17.8" y="27.4" width="3.2" height="2.8" fill="#444" rx="0.3"/>
<path d="M18.4,27.4 L18.4,26.3 Q18.4,25.2 19.4,25.2 Q20.4,25.2 20.4,26.3 L20.4,27.4" fill="none" stroke="#444" stroke-width="0.6" />
<text x="7" y="38.45" font-family="Liberation Sans" font-size="2.04" font-weight="bold" fill="#666" textLength="25" lengthAdjust="spacingAndGlyphs">Lorem ipsum dolor sit ame</text>
<text x="8" y="41.02" font-family="Liberation Sans" font-size="2.29" font-weight="bold" fill="#444" textLength="23" lengthAdjust="spacingAndGlyphs">Lorem ipsum dolor si</text>
<text x="9" y="43.55" font-family="Liberation Sans" font-size="2.04" font-weight="bold" fill="#777" textLength="21" lengthAdjust="spacingAndGlyphs">Lorem ipsum dolor sit</text>
<rect x="6.7" y="48" width="25.3" height="4.2" fill="#fff"/>
<rect x="8.2" y="49.3" width="1.6" height="1.6" fill="none" stroke="#777" stroke-width="0.4"/>
<text x="11.5" y="50.58" font-family="Liberation Sans" font-size="1.78" font-weight="bold" fill="#888" textLength="4.5" lengthAdjust="spacingAndGlyphs">Lorem</text>
<rect x="11" y="56.5" width="16.8" height="3.4" fill="#b4b4b4"/>
<text x="17.5" y="58.68" font-family="Liberation Sans" font-size="1.78" font-weight="bold" fill="#eee" textLength="4" lengthAdjust="spacingAndGlyphs">Lore</text>
<rect x="0.3" y="0.3" width="38.5" height="2.1" fill="#c9c9c9"/>
<rect x="1.4" y="0.8" width="5.2" height="0.9" fill="#777"/>
<rect x="17.95" y="0.8" width="3.2" height="0.9" fill="#666"/>
<rect x="31.1" y="0.75" width="2" height="1" fill="#555"/>
<rect x="34.3" y="0.75" width="3.2" height="1" fill="#666"/>
<rect x="0.35" y="0.35" width="38.4" height="69.1" fill="none" stroke="#a0a0a0" stroke-width="0.7"/>
</g>
<path d="M0.3,4.7 C1.8,4.3 3.7,1.7 3.6,0.7 C3.5,-0.1 2.7,0.3 2.4,1.5 C1.9,3.3 1.6,5.6 2.6,5.9 C3.2,6.1 3.8,5.6 4.2,5.0 M6.6,3.4 C5.2,2.8 4.0,4.2 4.4,5.4 C4.8,6.4 6.6,6.0 7.0,4.6 C7.2,3.8 6.8,3.3 6.4,3.4 C6.6,4.2 7.6,4.3 8.4,3.9 M10.9,3.5 C9.6,2.8 8.2,4.0 8.5,5.2 C8.8,6.3 10.4,5.9 10.9,4.4 L11.1,3.4 C10.9,5.0 10.7,7.4 9.8,8.5 C9.0,9.3 8.1,8.6 8.6,7.6 C9.2,6.6 11.4,6.0 12.4,5.0 M14.7,3.4 C13.3,2.8 12.1,4.2 12.5,5.4 C12.9,6.4 14.7,6.0 15.1,4.6 C15.3,3.8 14.9,3.3 14.5,3.4 C14.7,4.2 15.7,4.3 16.6,3.8" transform="translate(350.4,39.5) scale(1.13)" fill="none" stroke="#fff" stroke-width="1.25" stroke-linecap="round" stroke-linejoin="round"/>
<line x1="383.1" y1="265.7" x2="383.1" y2="274.2" stroke="#8c8c8c" stroke-width="0.6"/>
<rect x="365.65" y="261.2" width="34.6" height="4.5" fill="#fff" stroke="#adadad" stroke-width="0.55"/>
<text x="378.45" y="264.12" font-family="Liberation Sans" font-size="2.5" font-weight="bold" fill="#7c7c7c" textLength="9" lengthAdjust="spacingAndGlyphs">Lorem i</text>
<rect x="367.25" y="262.8" width="2.6" height="1.3" fill="#555"/>
<g transform="translate(363.3,274.3)">
<rect x="0.2" y="0.2" width="40" height="69.4" fill="#f0f0f0"/>
<rect x="0" y="2.2" width="40.4" height="5.4" fill="#e2e2e2"/>
<path d="M3.8,3.9 L2.6,4.9 L3.8,5.9 M2.6,4.9 L5,4.9" fill="none" stroke="#555" stroke-width="0.5" />
<text x="10.7" y="5.67" font-family="Liberation Sans" font-size="2.15" font-weight="bold" fill="#5c5c5c" textLength="19" lengthAdjust="spacingAndGlyphs">LOREM IPSUM DO</text>
<circle cx="36.8" cy="4.7" r="0.8" fill="none" stroke="#555" stroke-width="0.45"/>
<line x1="37.4" y1="5.3" x2="38.1" y2="6" stroke="#555" stroke-width="0.5"/>
<rect x="2.1" y="9.8" width="36.2" height="18" fill="#fafafa"/>
<rect x="4.1" y="11.4" width="9.6" height="11.8" fill="#d2d2d2"/>
<rect x="7.4" y="15.8" width="3" height="3" fill="none" rx="0.36" stroke="#6a6a6a" stroke-width="0.45"/>
<line x1="7.4" y1="17.45" x2="10.4" y2="17.45" stroke="#6a6a6a" stroke-width="0.36"/>
<line x1="8.54" y1="15.8" x2="8.54" y2="18.8" stroke="#6a6a6a" stroke-width="0.36"/>
<rect x="15.3" y="11.4" width="9.6" height="11.8" fill="#d2d2d2"/>
<rect x="18.6" y="15.8" width="3" height="3" fill="none" rx="0.36" stroke="#6a6a6a" stroke-width="0.45"/>
<line x1="18.6" y1="17.45" x2="21.6" y2="17.45" stroke="#6a6a6a" stroke-width="0.36"/>
<line x1="19.74" y1="15.8" x2="19.74" y2="18.8" stroke="#6a6a6a" stroke-width="0.36"/>
<rect x="26.4" y="11.7" width="4.5" height="5" fill="#d2d2d2"/>
<rect x="27.7" y="13.3" width="1.9" height="1.8" fill="#777"/>
<rect x="26.4" y="18.1" width="4.5" height="5" fill="#d2d2d2"/>
<rect x="27.7" y="19.7" width="1.9" height="1.8" fill="#777"/>
<rect x="31.9" y="11.7" width="4.5" height="5" fill="#d2d2d2"/>
<rect x="33.2" y="13.3" width="1.9" height="1.8" fill="#777"/>
<rect x="31.9" y="18.1" width="4.5" height="5" fill="#d2d2d2"/>
<rect x="33.2" y="19.7" width="1.9" height="1.8" fill="#777"/>
<text x="4.1" y="26.44" font-family="Liberation Sans" font-size="2.05" font-weight="bold" fill="#444" textLength="17.4" lengthAdjust="spacingAndGlyphs">LOREM IPSUM DO</text>
<text x="32" y="26.18" font-family="Liberation Sans" font-size="1.78" font-weight="bold" fill="#b0b0b0" textLength="4.3" lengthAdjust="spacingAndGlyphs">Lorem</text>
<rect x="2.1" y="29.6" width="36.2" height="18" fill="#fafafa"/>
<rect x="4.1" y="31.2" width="9.6" height="11.8" fill="#d2d2d2"/>
<rect x="7.4" y="35.6" width="3" height="3" fill="none" rx="0.36" stroke="#6a6a6a" stroke-width="0.45"/>
<line x1="7.4" y1="37.25" x2="10.4" y2="37.25" stroke="#6a6a6a" stroke-width="0.36"/>
<line x1="8.54" y1="35.6" x2="8.54" y2="38.6" stroke="#6a6a6a" stroke-width="0.36"/>
<rect x="15.3" y="31.2" width="9.6" height="11.8" fill="#d2d2d2"/>
<rect x="18.6" y="35.6" width="3" height="3" fill="none" rx="0.36" stroke="#6a6a6a" stroke-width="0.45"/>
<line x1="18.6" y1="37.25" x2="21.6" y2="37.25" stroke="#6a6a6a" stroke-width="0.36"/>
<line x1="19.74" y1="35.6" x2="19.74" y2="38.6" stroke="#6a6a6a" stroke-width="0.36"/>
<rect x="26.4" y="31.5" width="4.5" height="5" fill="#d2d2d2"/>
<rect x="27.7" y="33.1" width="1.9" height="1.8" fill="#777"/>
<rect x="26.4" y="37.9" width="4.5" height="5" fill="#d2d2d2"/>
<rect x="27.7" y="39.5" width="1.9" height="1.8" fill="#777"/>
<rect x="31.9" y="31.5" width="4.5" height="5" fill="#d2d2d2"/>
<rect x="33.2" y="33.1" width="1.9" height="1.8" fill="#777"/>
<rect x="31.9" y="37.9" width="4.5" height="5" fill="#d2d2d2"/>
<rect x="33.2" y="39.5" width="1.9" height="1.8" fill="#777"/>
<text x="4.1" y="46.24" font-family="Liberation Sans" font-size="2.05" font-weight="bold" fill="#444" textLength="12.9" lengthAdjust="spacingAndGlyphs">LOREM IPSU</text>
<text x="32" y="45.98" font-family="Liberation Sans" font-size="1.78" font-weight="bold" fill="#b0b0b0" textLength="4.3" lengthAdjust="spacingAndGlyphs">Lorem</text>
<rect x="2.1" y="49.6" width="36.2" height="18" fill="#fafafa"/>
<rect x="4.1" y="51.2" width="9.6" height="11.8" fill="#d2d2d2"/>
<rect x="7.4" y="55.6" width="3" height="3" fill="none" rx="0.36" stroke="#6a6a6a" stroke-width="0.45"/>
<line x1="7.4" y1="57.25" x2="10.4" y2="57.25" stroke="#6a6a6a" stroke-width="0.36"/>
<line x1="8.54" y1="55.6" x2="8.54" y2="58.6" stroke="#6a6a6a" stroke-width="0.36"/>
<rect x="15.3" y="51.2" width="9.6" height="11.8" fill="#d2d2d2"/>
<rect x="18.6" y="55.6" width="3" height="3" fill="none" rx="0.36" stroke="#6a6a6a" stroke-width="0.45"/>
<line x1="18.6" y1="57.25" x2="21.6" y2="57.25" stroke="#6a6a6a" stroke-width="0.36"/>
<line x1="19.74" y1="55.6" x2="19.74" y2="58.6" stroke="#6a6a6a" stroke-width="0.36"/>
<rect x="26.4" y="51.5" width="4.5" height="5" fill="#d2d2d2"/>
<rect x="27.7" y="53.1" width="1.9" height="1.8" fill="#777"/>
<rect x="26.4" y="57.9" width="4.5" height="5" fill="#d2d2d2"/>
<rect x="27.7" y="59.5" width="1.9" height="1.8" fill="#777"/>
<rect x="31.9" y="51.5" width="4.5" height="5" fill="#d2d2d2"/>
<rect x="33.2" y="53.1" width="1.9" height="1.8" fill="#777"/>
<rect x="31.9" y="57.9" width="4.5" height="5" fill="#d2d2d2"/>
<rect x="33.2" y="59.5" width="1.9" height="1.8" fill="#777"/>
<text x="4.1" y="66.24" font-family="Liberation Sans" font-size="2.05" font-weight="bold" fill="#444" textLength="9.9" lengthAdjust="spacingAndGlyphs">LOREM IP</text>
<text x="32" y="65.98" font-family="Liberation Sans" font-size="1.78" font-weight="bold" fill="#b0b0b0" textLength="4.3" lengthAdjust="spacingAndGlyphs">Lorem</text>
<rect x="0.3" y="0.3" width="39.8" height="2.1" fill="#c9c9c9"/>
<rect x="1.4" y="0.8" width="5.2" height="0.9" fill="#777"/>
<rect x="18.6" y="0.8" width="3.2" height="0.9" fill="#666"/>
<rect x="32.4" y="0.75" width="2" height="1" fill="#555"/>
<rect x="35.6" y="0.75" width="3.2" height="1" fill="#666"/>
<rect x="0.35" y="0.35" width="39.7" height="69.1" fill="none" stroke="#a0a0a0" stroke-width="0.7"/>
</g>
<line x1="448.35" y1="241.8" x2="448.35" y2="250.8" stroke="#8c8c8c" stroke-width="0.6"/>
<rect x="430.9" y="237.3" width="34.6" height="4.5" fill="#fff" rx="1.2" stroke="#adadad" stroke-width="0.55"/>
<text x="441.7" y="240.22" font-family="Liberation Sans" font-size="2.5" font-weight="bold" fill="#7c7c7c" textLength="13" lengthAdjust="spacingAndGlyphs">Lorem ipsu</text>
<g transform="translate(428.3,250.8)">
<rect x="0.2" y="0.2" width="38.6" height="69.4" fill="#f7f7f7"/>
<rect x="0" y="2.2" width="39" height="6.2" fill="#e2e2e2"/>
<rect x="1.3" y="4.17" width="2.6" height="0.55" fill="#444"/>
<rect x="1.3" y="5.02" width="2.6" height="0.55" fill="#444"/>
<rect x="1.3" y="5.87" width="2.6" height="0.55" fill="#444"/>
<rect x="5.2" y="3.6" width="30.8" height="3.8" fill="#fff" rx="1.9"/>
<circle cx="7.3" cy="5.2" r="0.8" fill="none" stroke="#666" stroke-width="0.45"/>
<line x1="7.9" y1="5.8" x2="8.6" y2="6.5" stroke="#666" stroke-width="0.5"/>
<text x="10.5" y="5.98" font-family="Liberation Sans" font-size="1.78" font-weight="bold" fill="#aaa" textLength="5" lengthAdjust="spacingAndGlyphs">Lorem</text>
<rect x="0" y="8.4" width="39" height="3.4" fill="#ececec"/>
<text x="1.5" y="10.65" font-family="Liberation Sans" font-size="2.04" font-weight="bold" fill="#777" textLength="7" lengthAdjust="spacingAndGlyphs">Lorem i</text>
<text x="16" y="10.65" font-family="Liberation Sans" font-size="2.04" font-weight="bold" fill="#777" textLength="8" lengthAdjust="spacingAndGlyphs">Lorem ip</text>
<rect x="31.6" y="9.3" width="1.7" height="1.7" fill="#555"/>
<rect x="35.2" y="9.3" width="1.7" height="1.7" fill="#555"/>
<rect x="1.8" y="14.3" width="17.2" height="16.4" fill="#dadada"/>
<rect x="8" y="19.1" width="4.8" height="4.8" fill="none" rx="0.58" stroke="#5a5a5a" stroke-width="0.7"/>
<line x1="8" y1="21.74" x2="12.8" y2="21.74" stroke="#5a5a5a" stroke-width="0.56"/>
<line x1="9.82" y1="19.1" x2="9.82" y2="23.9" stroke="#5a5a5a" stroke-width="0.56"/>
<line x1="9.82" y1="20.54" x2="12.8" y2="20.54" stroke="#5a5a5a" stroke-width="0.49"/>
<rect x="1.8" y="37.6" width="17.2" height="16.4" fill="#dadada"/>
<rect x="8" y="42.4" width="4.8" height="4.8" fill="none" rx="0.58" stroke="#5a5a5a" stroke-width="0.7"/>
<line x1="8" y1="45.04" x2="12.8" y2="45.04" stroke="#5a5a5a" stroke-width="0.56"/>
<line x1="9.82" y1="42.4" x2="9.82" y2="47.2" stroke="#5a5a5a" stroke-width="0.56"/>
<line x1="9.82" y1="43.84" x2="12.8" y2="43.84" stroke="#5a5a5a" stroke-width="0.49"/>
<rect x="1.8" y="61.5" width="17.2" height="8.3" fill="#dadada"/>
<rect x="8" y="64.6" width="4.8" height="4.8" fill="none" rx="0.58" stroke="#5a5a5a" stroke-width="0.7"/>
<line x1="8" y1="67.24" x2="12.8" y2="67.24" stroke="#5a5a5a" stroke-width="0.56"/>
<line x1="9.82" y1="64.6" x2="9.82" y2="69.4" stroke="#5a5a5a" stroke-width="0.56"/>
<line x1="9.82" y1="66.04" x2="12.8" y2="66.04" stroke="#5a5a5a" stroke-width="0.49"/>
<text x="3.8" y="32.88" font-family="Liberation Sans" font-size="1.78" font-weight="bold" fill="#888" textLength="6.5" lengthAdjust="spacingAndGlyphs">Lorem i</text>
<text x="11.8" y="32.88" font-family="Liberation Sans" font-size="1.78" font-weight="bold" fill="#888" textLength="5.5" lengthAdjust="spacingAndGlyphs">Lorem</text>
<text x="4.8" y="35.71" font-family="Liberation Sans" font-size="2.25" font-weight="bold" fill="#222" textLength="11.5" lengthAdjust="spacingAndGlyphs">LOREM IP</text>
<text x="3.8" y="56.28" font-family="Liberation Sans" font-size="1.78" font-weight="bold" fill="#888" textLength="6.5" lengthAdjust="spacingAndGlyphs">Lorem i</text>
<text x="11.8" y="56.28" font-family="Liberation Sans" font-size="1.78" font-weight="bold" fill="#888" textLength="5.5" lengthAdjust="spacingAndGlyphs">Lorem</text>
<text x="4.8" y="59.11" font-family="Liberation Sans" font-size="2.25" font-weight="bold" fill="#222" textLength="11.5" lengthAdjust="spacingAndGlyphs">LOREM IP</text>
<rect x="20.6" y="14.3" width="17.2" height="16.4" fill="#dadada"/>
<rect x="26.8" y="19.1" width="4.8" height="4.8" fill="none" rx="0.58" stroke="#5a5a5a" stroke-width="0.7"/>
<line x1="26.8" y1="21.74" x2="31.6" y2="21.74" stroke="#5a5a5a" stroke-width="0.56"/>
<line x1="28.62" y1="19.1" x2="28.62" y2="23.9" stroke="#5a5a5a" stroke-width="0.56"/>
<line x1="28.62" y1="20.54" x2="31.6" y2="20.54" stroke="#5a5a5a" stroke-width="0.49"/>
<rect x="20.6" y="37.6" width="17.2" height="16.4" fill="#dadada"/>
<rect x="26.8" y="42.4" width="4.8" height="4.8" fill="none" rx="0.58" stroke="#5a5a5a" stroke-width="0.7"/>
<line x1="26.8" y1="45.04" x2="31.6" y2="45.04" stroke="#5a5a5a" stroke-width="0.56"/>
<line x1="28.62" y1="42.4" x2="28.62" y2="47.2" stroke="#5a5a5a" stroke-width="0.56"/>
<line x1="28.62" y1="43.84" x2="31.6" y2="43.84" stroke="#5a5a5a" stroke-width="0.49"/>
<rect x="20.6" y="61.5" width="17.2" height="8.3" fill="#dadada"/>
<rect x="26.8" y="64.6" width="4.8" height="4.8" fill="none" rx="0.58" stroke="#5a5a5a" stroke-width="0.7"/>
<line x1="26.8" y1="67.24" x2="31.6" y2="67.24" stroke="#5a5a5a" stroke-width="0.56"/>
<line x1="28.62" y1="64.6" x2="28.62" y2="69.4" stroke="#5a5a5a" stroke-width="0.56"/>
<line x1="28.62" y1="66.04" x2="31.6" y2="66.04" stroke="#5a5a5a" stroke-width="0.49"/>
<text x="22.6" y="32.88" font-family="Liberation Sans" font-size="1.78" font-weight="bold" fill="#888" textLength="6.5" lengthAdjust="spacingAndGlyphs">Lorem i</text>
<text x="30.6" y="32.88" font-family="Liberation Sans" font-size="1.78" font-weight="bold" fill="#888" textLength="5.5" lengthAdjust="spacingAndGlyphs">Lorem</text>
<text x="23.6" y="35.71" font-family="Liberation Sans" font-size="2.25" font-weight="bold" fill="#222" textLength="11.5" lengthAdjust="spacingAndGlyphs">LOREM IP</text>
<text x="22.6" y="56.28" font-family="Liberation Sans" font-size="1.78" font-weight="bold" fill="#888" textLength="6.5" lengthAdjust="spacingAndGlyphs">Lorem i</text>
<text x="30.6" y="56.28" font-family="Liberation Sans" font-size="1.78" font-weight="bold" fill="#888" textLength="5.5" lengthAdjust="spacingAndGlyphs">Lorem</text>
<text x="23.6" y="59.11" font-family="Liberation Sans" font-size="2.25" font-weight="bold" fill="#222" textLength="11.5" lengthAdjust="spacingAndGlyphs">LOREM IP</text>
<rect x="0.3" y="0.3" width="38.4" height="2.1" fill="#c9c9c9"/>
<rect x="1.4" y="0.8" width="5.2" height="0.9" fill="#777"/>
<rect x="17.9" y="0.8" width="3.2" height="0.9" fill="#666"/>
<rect x="31" y="0.75" width="2" height="1" fill="#555"/>
<rect x="34.2" y="0.75" width="3.2" height="1" fill="#666"/>
<rect x="0.35" y="0.35" width="38.3" height="69.1" fill="none" stroke="#a0a0a0" stroke-width="0.7"/>
</g>
<line x1="513.6" y1="229.6" x2="513.6" y2="237.8" stroke="#8c8c8c" stroke-width="0.6"/>
<rect x="496.15" y="225.1" width="34.6" height="4.5" fill="#fff" stroke="#adadad" stroke-width="0.55"/>
<text x="506.45" y="228.02" font-family="Liberation Sans" font-size="2.5" font-weight="bold" fill="#7c7c7c" textLength="14" lengthAdjust="spacingAndGlyphs">Lorem ipsum</text>
<rect x="526.55" y="226.7" width="2.4" height="1.3" fill="#666"/>
<g transform="translate(493.4,238)">
<rect x="0.2" y="0.2" width="39" height="69.4" fill="#fbfbfb"/>
<rect x="0" y="2.2" width="39.4" height="6.5" fill="#e2e2e2"/>
<path d="M3.9,4.4 L2.7,5.4 L3.9,6.4 M2.7,5.4 L5,5.4" fill="none" stroke="#444" stroke-width="0.55" />
<rect x="6" y="3.7" width="30" height="4.2" fill="#fff" rx="2.1"/>
<circle cx="8.4" cy="5.5" r="0.8" fill="none" stroke="#555" stroke-width="0.45"/>
<line x1="9" y1="6.1" x2="9.7" y2="6.8" stroke="#555" stroke-width="0.5"/>
<rect x="12" y="5.55" width="2.5" height="0.7" fill="#aaa"/>
<rect x="4.1" y="10.2" width="31.2" height="3.7" fill="#ebebeb"/>
<circle cx="6.4" cy="11.8" r="0.8" fill="none" stroke="#666" stroke-width="0.45"/>
<line x1="7" y1="12.4" x2="7.7" y2="13.1" stroke="#666" stroke-width="0.5"/>
<text x="9.5" y="12.72" font-family="Liberation Sans" font-size="2.29" font-weight="bold" fill="#666" textLength="6" lengthAdjust="spacingAndGlyphs">Lorem</text>
<rect x="4.1" y="14.8" width="31.2" height="3.7" fill="#ebebeb"/>
<circle cx="6.4" cy="16.4" r="0.8" fill="none" stroke="#666" stroke-width="0.45"/>
<line x1="7" y1="17" x2="7.7" y2="17.7" stroke="#666" stroke-width="0.5"/>
<text x="9.5" y="17.32" font-family="Liberation Sans" font-size="2.29" font-weight="bold" fill="#666" textLength="10.5" lengthAdjust="spacingAndGlyphs">Lorem ips</text>
<rect x="4.1" y="19.1" width="31.2" height="3.7" fill="#ebebeb"/>
<circle cx="6.4" cy="20.7" r="0.8" fill="none" stroke="#666" stroke-width="0.45"/>
<line x1="7" y1="21.3" x2="7.7" y2="22" stroke="#666" stroke-width="0.5"/>
<text x="9.5" y="21.62" font-family="Liberation Sans" font-size="2.29" font-weight="bold" fill="#666" textLength="15.5" lengthAdjust="spacingAndGlyphs">Lorem ipsum do</text>
<rect x="4.1" y="23.5" width="31.2" height="3.7" fill="#ebebeb"/>
<circle cx="6.4" cy="25.1" r="0.8" fill="none" stroke="#666" stroke-width="0.45"/>
<line x1="7" y1="25.7" x2="7.7" y2="26.4" stroke="#666" stroke-width="0.5"/>
<text x="9.5" y="26.02" font-family="Liberation Sans" font-size="2.29" font-weight="bold" fill="#666" textLength="18.5" lengthAdjust="spacingAndGlyphs">Lorem ipsum dolo</text>
<rect x="4.1" y="27.8" width="31.2" height="3.7" fill="#ebebeb"/>
<circle cx="6.4" cy="29.4" r="0.8" fill="none" stroke="#666" stroke-width="0.45"/>
<line x1="7" y1="30" x2="7.7" y2="30.7" stroke="#666" stroke-width="0.5"/>
<text x="9.5" y="30.32" font-family="Liberation Sans" font-size="2.29" font-weight="bold" fill="#666" textLength="22.5" lengthAdjust="spacingAndGlyphs">Lorem ipsum dolor si</text>
<rect x="4.1" y="32.1" width="31.2" height="3.7" fill="#ebebeb"/>
<circle cx="6.4" cy="33.7" r="0.8" fill="none" stroke="#666" stroke-width="0.45"/>
<line x1="7" y1="34.3" x2="7.7" y2="35" stroke="#666" stroke-width="0.5"/>
<text x="9.5" y="34.62" font-family="Liberation Sans" font-size="2.29" font-weight="bold" fill="#666" textLength="16.5" lengthAdjust="spacingAndGlyphs">Lorem ipsum do</text>
<rect x="4.1" y="36.4" width="31.2" height="3.7" fill="#ebebeb"/>
<circle cx="6.4" cy="38" r="0.8" fill="none" stroke="#666" stroke-width="0.45"/>
<line x1="7" y1="38.6" x2="7.7" y2="39.3" stroke="#666" stroke-width="0.5"/>
<text x="9.5" y="38.92" font-family="Liberation Sans" font-size="2.29" font-weight="bold" fill="#666" textLength="19.5" lengthAdjust="spacingAndGlyphs">Lorem ipsum dolor</text>
<rect x="0" y="47.4" width="39.4" height="22.4" fill="#d4d4d4"/>
<rect x="0.8" y="48.5" width="3.1" height="4" fill="#fafafa" rx="0.4"/>
<rect x="4.62" y="48.5" width="3.1" height="4" fill="#fafafa" rx="0.4"/>
<rect x="8.44" y="48.5" width="3.1" height="4" fill="#fafafa" rx="0.4"/>
<rect x="12.26" y="48.5" width="3.1" height="4" fill="#fafafa" rx="0.4"/>
<rect x="16.08" y="48.5" width="3.1" height="4" fill="#fafafa" rx="0.4"/>
<rect x="19.9" y="48.5" width="3.1" height="4" fill="#fafafa" rx="0.4"/>
<rect x="23.72" y="48.5" width="3.1" height="4" fill="#fafafa" rx="0.4"/>
<rect x="27.54" y="48.5" width="3.1" height="4" fill="#fafafa" rx="0.4"/>
<rect x="31.36" y="48.5" width="3.1" height="4" fill="#fafafa" rx="0.4"/>
<rect x="35.18" y="48.5" width="3.1" height="4" fill="#fafafa" rx="0.4"/>
<rect x="2.7" y="53.6" width="3.1" height="4" fill="#fafafa" rx="0.4"/>
<rect x="6.52" y="53.6" width="3.1" height="4" fill="#fafafa" rx="0.4"/>
<rect x="10.34" y="53.6" width="3.1" height="4" fill="#fafafa" rx="0.4"/>
<rect x="14.16" y="53.6" width="3.1" height="4" fill="#fafafa" rx="0.4"/>
<rect x="17.98" y="53.6" width="3.1" height="4" fill="#fafafa" rx="0.4"/>
<rect x="21.8" y="53.6" width="3.1" height="4" fill="#fafafa" rx="0.4"/>
<rect x="25.62" y="53.6" width="3.1" height="4" fill="#fafafa" rx="0.4"/>
<rect x="29.44" y="53.6" width="3.1" height="4" fill="#fafafa" rx="0.4"/>
<rect x="33.26" y="53.6" width="3.1" height="4" fill="#fafafa" rx="0.4"/>
<rect x="6.6" y="58.7" width="3.1" height="4" fill="#fafafa" rx="0.4"/>
<rect x="10.42" y="58.7" width="3.1" height="4" fill="#fafafa" rx="0.4"/>
<rect x="14.24" y="58.7" width="3.1" height="4" fill="#fafafa" rx="0.4"/>
<rect x="18.06" y="58.7" width="3.1" height="4" fill="#fafafa" rx="0.4"/>
<rect x="21.88" y="58.7" width="3.1" height="4" fill="#fafafa" rx="0.4"/>
<rect x="25.7" y="58.7" width="3.1" height="4" fill="#fafafa" rx="0.4"/>
<rect x="29.52" y="58.7" width="3.1" height="4" fill="#fafafa" rx="0.4"/>
<rect x="0.8" y="58.7" width="4.6" height="4" fill="#8a8a8a" rx="0.4"/>
<rect x="34.3" y="58.7" width="4.6" height="4" fill="#8a8a8a" rx="0.4"/>
<rect x="0.8" y="63.9" width="4.4" height="4.4" fill="#8a8a8a" rx="0.4"/>
<rect x="5.8" y="63.9" width="4" height="4.4" fill="#8a8a8a" rx="0.4"/>
<rect x="10.4" y="63.9" width="19.6" height="4.4" fill="#fafafa" rx="0.4"/>
<rect x="30.6" y="63.9" width="8.3" height="4.4" fill="#8a8a8a" rx="0.4"/>
<rect x="0.3" y="0.3" width="38.8" height="2.1" fill="#c9c9c9"/>
<rect x="1.4" y="0.8" width="5.2" height="0.9" fill="#777"/>
<rect x="18.1" y="0.8" width="3.2" height="0.9" fill="#666"/>
<rect x="31.4" y="0.75" width="2" height="1" fill="#555"/>
<rect x="34.6" y="0.75" width="3.2" height="1" fill="#666"/>
<rect x="0.35" y="0.35" width="38.7" height="69.1" fill="none" stroke="#a0a0a0" stroke-width="0.7"/>
</g>
<line x1="578.85" y1="227.8" x2="578.85" y2="236.6" stroke="#8c8c8c" stroke-width="0.6"/>
<rect x="561.4" y="223.3" width="34.6" height="4.5" fill="#fff" stroke="#adadad" stroke-width="0.55"/>
<text x="569.2" y="226.22" font-family="Liberation Sans" font-size="2.5" font-weight="bold" fill="#7c7c7c" textLength="19" lengthAdjust="spacingAndGlyphs">Lorem ipsum dol</text>
<rect x="563" y="224.9" width="2.6" height="1.3" fill="#555"/>
<g transform="translate(559.4,236.6)">
<rect x="0.2" y="0.2" width="39" height="69.4" fill="#fff"/>
<rect x="0" y="2.2" width="31.2" height="67.6" fill="#e0e0e0"/>
<circle cx="15.7" cy="10.9" r="5.6" fill="#fff" stroke="#333" stroke-width="0.75"/>
<path d="M11.33,14.26 Q12,12.13 14.47,12.02 L15.7,14.37 L16.93,12.02 Q19.4,12.13 20.07,14.26" fill="none" stroke="#333" stroke-width="0.55" />
<line x1="15.7" y1="14.37" x2="15.7" y2="16.22" stroke="#333" stroke-width="0.4"/>
<circle cx="15.7" cy="9.5" r="2.02" fill="#fff" stroke="#333" stroke-width="0.55"/>
<path d="M13.57,9.22 Q13.68,6.87 15.7,6.98 Q17.72,6.87 17.83,9.22 Q15.7,7.99 13.57,9.22 Z" fill="#666" stroke="#333" stroke-width="0.3" />
<path d="M13.68,10 Q14.02,13.25 15.7,13.59 Q17.38,13.25 17.72,10 Q15.7,11.57 13.68,10 Z" fill="#7a7a7a" stroke="#333" stroke-width="0.35" />
<text x="9.5" y="20.02" font-family="Liberation Sans" font-size="2.29" font-weight="bold" fill="#777" textLength="12.5" lengthAdjust="spacingAndGlyphs">Lorem ipsum</text>
<rect x="2.3" y="22.1" width="25.9" height="4.1" fill="#fff" rx="2.05"/>
<circle cx="4.8" cy="23.9" r="0.8" fill="none" stroke="#666" stroke-width="0.45"/>
<line x1="5.4" y1="24.5" x2="6.1" y2="25.2" stroke="#666" stroke-width="0.5"/>
<text x="8" y="24.75" font-family="Liberation Sans" font-size="2.04" font-weight="bold" fill="#c4c4c4" textLength="11" lengthAdjust="spacingAndGlyphs">Lorem ipsum</text>
<rect x="0" y="28.9" width="31.2" height="3.7" fill="#ececec"/>
<rect x="3.7" y="29.8" width="1.8" height="1.8" fill="#555" rx="0.4"/>
<text x="8" y="31.9" font-family="Liberation Sans" font-size="2.55" fill="#4a4a4a" font-weight="normal" font-style="normal" text-anchor="start" textLength="5.4" lengthAdjust="spacingAndGlyphs">Home</text>
<rect x="3.7" y="34.2" width="1.8" height="1.8" fill="#555" rx="0.4"/>
<text x="8" y="36.3" font-family="Liberation Sans" font-size="2.55" fill="#4a4a4a" font-weight="normal" font-style="normal" text-anchor="start" textLength="4.2" lengthAdjust="spacingAndGlyphs">Cart</text>
<rect x="3.7" y="38.5" width="1.8" height="1.8" fill="#555" rx="0.4"/>
<text x="8" y="40.6" font-family="Liberation Sans" font-size="2.55" fill="#4a4a4a" font-weight="normal" font-style="normal" text-anchor="start" textLength="8.2" lengthAdjust="spacingAndGlyphs">Wish List</text>
<rect x="3.7" y="42.8" width="1.8" height="1.8" fill="#555" rx="0.4"/>
<text x="8" y="44.9" font-family="Liberation Sans" font-size="2.55" fill="#4a4a4a" font-weight="normal" font-style="normal" text-anchor="start" textLength="9.2" lengthAdjust="spacingAndGlyphs">Categories</text>
<rect x="3.7" y="47.1" width="1.8" height="1.8" fill="#555" rx="0.4"/>
<text x="8" y="49.2" font-family="Liberation Sans" font-size="2.55" fill="#4a4a4a" font-weight="normal" font-style="normal" text-anchor="start" textLength="7.4" lengthAdjust="spacingAndGlyphs">Account</text>
<rect x="3.7" y="51.5" width="1.8" height="1.8" fill="#555" rx="0.4"/>
<text x="8" y="53.6" font-family="Liberation Sans" font-size="2.55" fill="#4a4a4a" font-weight="normal" font-style="normal" text-anchor="start" textLength="7.4" lengthAdjust="spacingAndGlyphs">Settings</text>
<rect x="3.7" y="55.8" width="1.8" height="1.8" fill="#555" rx="0.4"/>
<text x="8" y="57.9" font-family="Liberation Sans" font-size="2.55" fill="#4a4a4a" font-weight="normal" font-style="normal" text-anchor="start" textLength="7" lengthAdjust="spacingAndGlyphs">Contact</text>
<rect x="3.7" y="60.1" width="1.8" height="1.8" fill="#555" rx="0.4"/>
<text x="8" y="62.2" font-family="Liberation Sans" font-size="2.55" fill="#4a4a4a" font-weight="normal" font-style="normal" text-anchor="start" textLength="6.8" lengthAdjust="spacingAndGlyphs">Log Out</text>
<text x="9.5" y="66.55" font-family="Liberation Sans" font-size="2.04" font-weight="bold" fill="#7a7a7a" textLength="13.5" lengthAdjust="spacingAndGlyphs">Lorem ipsum d</text>
<rect x="8.2" y="65.3" width="1.3" height="1.3" fill="#666"/>
<rect x="0.3" y="0.3" width="38.8" height="2.1" fill="#c9c9c9"/>
<rect x="1.4" y="0.8" width="5.2" height="0.9" fill="#777"/>
<rect x="18.1" y="0.8" width="3.2" height="0.9" fill="#666"/>
<rect x="31.4" y="0.75" width="2" height="1" fill="#555"/>
<rect x="34.6" y="0.75" width="3.2" height="1" fill="#666"/>
<rect x="0.35" y="0.35" width="38.7" height="69.1" fill="none" stroke="#a0a0a0" stroke-width="0.7"/>
</g>
<line x1="665.85" y1="243.8" x2="665.85" y2="252.4" stroke="#8c8c8c" stroke-width="0.6"/>
<rect x="648.4" y="239.3" width="34.6" height="4.5" fill="#fff" stroke="#adadad" stroke-width="0.55"/>
<text x="660.2" y="242.22" font-family="Liberation Sans" font-size="2.5" font-weight="bold" fill="#7c7c7c" textLength="11" lengthAdjust="spacingAndGlyphs">Lorem ips</text>
<rect x="650" y="240.9" width="2.6" height="1.3" fill="#555"/>
<g transform="translate(646.5,252.4)">
<rect x="0.2" y="0.2" width="38.6" height="69.4" fill="#fff"/>
<text x="10.5" y="13.82" font-family="Liberation Sans" font-size="2.29" font-weight="bold" fill="#8a8a8a" textLength="18" lengthAdjust="spacingAndGlyphs">Lorem ipsum dolo</text>
<circle cx="19.3" cy="25.9" r="7.2" fill="#fff" stroke="#333" stroke-width="0.75"/>
<path d="M13.68,30.22 Q14.55,27.48 17.72,27.34 L19.3,30.36 L20.88,27.34 Q24.05,27.48 24.92,30.22" fill="none" stroke="#333" stroke-width="0.55" />
<line x1="19.3" y1="30.36" x2="19.3" y2="32.74" stroke="#333" stroke-width="0.4"/>
<circle cx="19.3" cy="24.1" r="2.59" fill="#fff" stroke="#333" stroke-width="0.55"/>
<path d="M16.56,23.74 Q16.71,20.72 19.3,20.86 Q21.89,20.72 22.04,23.74 Q19.3,22.16 16.56,23.74 Z" fill="#666" stroke="#333" stroke-width="0.3" />
<path d="M16.71,24.75 Q17.14,28.92 19.3,29.36 Q21.46,28.92 21.89,24.75 Q19.3,26.76 16.71,24.75 Z" fill="#7a7a7a" stroke="#333" stroke-width="0.35" />
<circle cx="7.5" cy="20" r="0.35" fill="#c8c8c8"/>
<circle cx="9" cy="28" r="0.35" fill="#c8c8c8"/>
<circle cx="31" cy="19" r="0.35" fill="#c8c8c8"/>
<circle cx="30" cy="29" r="0.35" fill="#c8c8c8"/>
<circle cx="12.5" cy="17.5" r="0.35" fill="#c8c8c8"/>
<circle cx="27" cy="33.5" r="0.35" fill="#c8c8c8"/>
<circle cx="6.5" cy="24" r="0.35" fill="#c8c8c8"/>
<circle cx="33" cy="24.5" r="0.35" fill="#c8c8c8"/>
<text x="19.8" y="40.1" font-family="Liberation Sans" font-size="3.6" fill="#444" font-weight="normal" font-style="normal" text-anchor="middle" textLength="16.4" lengthAdjust="spacingAndGlyphs">JANE DOE</text>
<text x="5.5" y="43.55" font-family="Liberation Sans" font-size="2.04" font-weight="bold" fill="#8a8a8a" textLength="28.5" lengthAdjust="spacingAndGlyphs">Lorem ipsum dolor sit amet c</text>
<rect x="7.9" y="49.8" width="23.5" height="3.9" fill="#cfcfcf" rx="1.95"/>
<text x="16.8" y="52.3" font-family="Liberation Sans" font-size="2.04" font-weight="bold" fill="#777" textLength="5.8" lengthAdjust="spacingAndGlyphs">Lorem</text>
<rect x="0.3" y="0.3" width="38.4" height="2.1" fill="#c9c9c9"/>
<rect x="1.4" y="0.8" width="5.2" height="0.9" fill="#777"/>
<rect x="17.9" y="0.8" width="3.2" height="0.9" fill="#666"/>
<rect x="31" y="0.75" width="2" height="1" fill="#555"/>
<rect x="34.2" y="0.75" width="3.2" height="1" fill="#666"/>
<rect x="0.35" y="0.35" width="38.3" height="69.1" fill="none" stroke="#a0a0a0" stroke-width="0.7"/>
</g>
<line x1="731.1" y1="265.7" x2="731.1" y2="274.4" stroke="#8c8c8c" stroke-width="0.6"/>
<rect x="713.65" y="261.2" width="34.6" height="4.5" fill="#fff" stroke="#adadad" stroke-width="0.55"/>
<text x="726.45" y="264.12" font-family="Liberation Sans" font-size="2.5" font-weight="bold" fill="#7c7c7c" textLength="9" lengthAdjust="spacingAndGlyphs">Lorem i</text>
<rect x="715.25" y="262.8" width="2.6" height="1.3" fill="#555"/>
<g transform="translate(711.4,274.4)">
<rect x="0.2" y="0.2" width="39.1" height="69.4" fill="#fff"/>
<rect x="0" y="2.2" width="39.5" height="5" fill="#e2e2e2"/>
<rect x="1.7" y="3.58" width="2.6" height="0.55" fill="#444"/>
<rect x="1.7" y="4.42" width="2.6" height="0.55" fill="#444"/>
<rect x="1.7" y="5.27" width="2.6" height="0.55" fill="#444"/>
<text x="15.35" y="5.47" font-family="Liberation Sans" font-size="2.15" font-weight="bold" fill="#5c5c5c" textLength="8.8" lengthAdjust="spacingAndGlyphs">LOREM I</text>
<rect x="35.5" y="3.7" width="0.8" height="2" fill="#777"/>
<rect x="0" y="7.2" width="39.5" height="32.3" fill="#eeeeee"/>
<circle cx="19.5" cy="14.3" r="5.3" fill="#fff" stroke="#333" stroke-width="0.75"/>
<path d="M15.37,17.48 Q16,15.47 18.33,15.36 L19.5,17.59 L20.67,15.36 Q23,15.47 23.63,17.48" fill="none" stroke="#333" stroke-width="0.55" />
<line x1="19.5" y1="17.59" x2="19.5" y2="19.34" stroke="#333" stroke-width="0.4"/>
<circle cx="19.5" cy="12.98" r="1.91" fill="#fff" stroke="#333" stroke-width="0.55"/>
<path d="M17.49,12.71 Q17.59,10.48 19.5,10.59 Q21.41,10.48 21.51,12.71 Q19.5,11.54 17.49,12.71 Z" fill="#666" stroke="#333" stroke-width="0.3" />
<path d="M17.59,13.45 Q17.91,16.53 19.5,16.84 Q21.09,16.53 21.41,13.45 Q19.5,14.94 17.59,13.45 Z" fill="#7a7a7a" stroke="#333" stroke-width="0.35" />
<text x="19.9" y="23.4" font-family="Liberation Sans" font-size="3.2" fill="#333" font-weight="normal" font-style="normal" text-anchor="middle" textLength="18.4" lengthAdjust="spacingAndGlyphs">Jonathan Doe</text>
<text x="14" y="25.78" font-family="Liberation Sans" font-size="1.78" font-weight="bold" fill="#8a8a8a" textLength="11.4" lengthAdjust="spacingAndGlyphs">Lorem ipsum d</text>
<circle cx="10.3" cy="31.8" r="3.1" fill="#c8c8c8"/>
<rect x="9" y="31.2" width="2.6" height="1.2" fill="#777"/>
<text x="7.7" y="36.71" font-family="Liberation Sans" font-size="1.53" font-weight="bold" fill="#999" textLength="5.2" lengthAdjust="spacingAndGlyphs">Lorem i</text>
<circle cx="19.8" cy="31.8" r="3.1" fill="#c8c8c8"/>
<rect x="18.5" y="31.2" width="2.6" height="1.2" fill="#777"/>
<text x="17.2" y="36.71" font-family="Liberation Sans" font-size="1.53" font-weight="bold" fill="#999" textLength="5.2" lengthAdjust="spacingAndGlyphs">Lorem i</text>
<circle cx="29.4" cy="31.8" r="3.1" fill="#c8c8c8"/>
<rect x="28.1" y="31.2" width="2.6" height="1.2" fill="#777"/>
<text x="26.8" y="36.71" font-family="Liberation Sans" font-size="1.53" font-weight="bold" fill="#999" textLength="5.2" lengthAdjust="spacingAndGlyphs">Lorem i</text>
<text x="3.8" y="42.55" font-family="Liberation Sans" font-size="2.04" font-weight="bold" fill="#333" textLength="6.2" lengthAdjust="spacingAndGlyphs">Lorem</text>
<text x="16.5" y="42.48" font-family="Liberation Sans" font-size="1.78" font-weight="bold" fill="#999" textLength="6.5" lengthAdjust="spacingAndGlyphs">Lorem i</text>
<text x="28" y="42.48" font-family="Liberation Sans" font-size="1.78" font-weight="bold" fill="#999" textLength="7" lengthAdjust="spacingAndGlyphs">Lorem ip</text>
<text x="3" y="44.21" font-family="Liberation Sans" font-size="1.53" font-weight="bold" fill="#333" textLength="8" lengthAdjust="spacingAndGlyphs">Lorem ipsu</text>
<line x1="0" y1="44.1" x2="39.5" y2="44.1" stroke="#ddd" stroke-width="0.3"/>
<text x="4" y="48.74" font-family="Liberation Sans" font-size="2.05" font-weight="bold" fill="#333" textLength="31.6" lengthAdjust="spacingAndGlyphs">LOREM IPSUM DOLOR SIT AME</text>
<text x="4" y="50.64" font-family="Liberation Sans" font-size="2.05" font-weight="bold" fill="#333" textLength="29" lengthAdjust="spacingAndGlyphs">LOREM IPSUM DOLOR SIT A</text>
<text x="4" y="52.44" font-family="Liberation Sans" font-size="2.05" font-weight="bold" fill="#333" textLength="31.6" lengthAdjust="spacingAndGlyphs">LOREM IPSUM DOLOR SIT AME</text>
<text x="4" y="54.24" font-family="Liberation Sans" font-size="2.05" font-weight="bold" fill="#333" textLength="18" lengthAdjust="spacingAndGlyphs">LOREM IPSUM DO</text>
<text x="4" y="59.82" font-family="Liberation Sans" font-size="2.29" font-weight="bold" fill="#777" textLength="31.6" lengthAdjust="spacingAndGlyphs">Lorem ipsum dolor sit amet c</text>
<text x="4" y="61.72" font-family="Liberation Sans" font-size="2.29" font-weight="bold" fill="#777" textLength="31" lengthAdjust="spacingAndGlyphs">Lorem ipsum dolor sit amet</text>
<text x="4" y="63.72" font-family="Liberation Sans" font-size="2.29" font-weight="bold" fill="#777" textLength="31.6" lengthAdjust="spacingAndGlyphs">Lorem ipsum dolor sit amet c</text>
<text x="4" y="65.72" font-family="Liberation Sans" font-size="2.29" font-weight="bold" fill="#777" textLength="29" lengthAdjust="spacingAndGlyphs">Lorem ipsum dolor sit ame</text>
<rect x="0.3" y="0.3" width="38.9" height="2.1" fill="#c9c9c9"/>
<rect x="1.4" y="0.8" width="5.2" height="0.9" fill="#777"/>
<rect x="18.15" y="0.8" width="3.2" height="0.9" fill="#666"/>
<rect x="31.5" y="0.75" width="2" height="1" fill="#555"/>
<rect x="34.7" y="0.75" width="3.2" height="1" fill="#666"/>
<rect x="0.35" y="0.35" width="38.8" height="69.1" fill="none" stroke="#a0a0a0" stroke-width="0.7"/>
</g>
<rect x="605.7" y="350" width="34.8" height="4.5" fill="#fff" stroke="#adadad" stroke-width="0.55"/>
<text x="616.6" y="352.92" font-family="Liberation Sans" font-size="2.5" font-weight="bold" fill="#7c7c7c" textLength="13" lengthAdjust="spacingAndGlyphs">Lorem ipsu</text>
<rect x="607.3" y="351.6" width="2.6" height="1.3" fill="#555"/>
<rect x="636.3" y="351.6" width="2.4" height="1.3" fill="#666"/>
<g transform="translate(537.5,360.7)">
<rect x="0.2" y="0.2" width="38.6" height="69.4" fill="#fcfcfc"/>
<rect x="0" y="2.2" width="39" height="5.4" fill="#e2e2e2"/>
<rect x="1.7" y="3.78" width="2.6" height="0.55" fill="#444"/>
<rect x="1.7" y="4.62" width="2.6" height="0.55" fill="#444"/>
<rect x="1.7" y="5.47" width="2.6" height="0.55" fill="#444"/>
<text x="12.5" y="5.67" font-family="Liberation Sans" font-size="2.15" font-weight="bold" fill="#5c5c5c" textLength="14" lengthAdjust="spacingAndGlyphs">LOREM IPSU</text>
<circle cx="35.4" cy="4.7" r="0.8" fill="none" stroke="#555" stroke-width="0.45"/>
<line x1="36" y1="5.3" x2="36.7" y2="6" stroke="#555" stroke-width="0.5"/>
<path d="M0,-2 L0.6,-0.65 L2,-0.5 L0.95,0.45 L1.25,1.9 L0,1.15 L-1.25,1.9 L-0.95,0.45 L-2,-0.5 L-0.6,-0.65 Z" transform="translate(10,16.8) scale(1.05)" fill="#555"/>
<path d="M0,-2 L0.6,-0.65 L2,-0.5 L0.95,0.45 L1.25,1.9 L0,1.15 L-1.25,1.9 L-0.95,0.45 L-2,-0.5 L-0.6,-0.65 Z" transform="translate(14.9,16.8) scale(1.05)" fill="#555"/>
<path d="M0,-2 L0.6,-0.65 L2,-0.5 L0.95,0.45 L1.25,1.9 L0,1.15 L-1.25,1.9 L-0.95,0.45 L-2,-0.5 L-0.6,-0.65 Z" transform="translate(19.9,16.8) scale(1.05)" fill="#555"/>
<path d="M0,-2 L0.6,-0.65 L2,-0.5 L0.95,0.45 L1.25,1.9 L0,1.15 L-1.25,1.9 L-0.95,0.45 L-2,-0.5 L-0.6,-0.65 Z" transform="translate(25,16.8) scale(1.05)" fill="#555"/>
<path d="M0,-2 L0.6,-0.65 L2,-0.5 L0.95,0.45 L1.25,1.9 L0,1.15 L-1.25,1.9 L-0.95,0.45 L-2,-0.5 L-0.6,-0.65 Z" transform="translate(29.9,16.8) scale(1.05)" fill="#cfcfcf"/>
<text x="13.5" y="21.78" font-family="Liberation Sans" font-size="1.78" font-weight="bold" fill="#a0a0a0" textLength="12.5" lengthAdjust="spacingAndGlyphs">Lorem ipsum do</text>
<rect x="5.3" y="26.3" width="29.3" height="4.2" fill="#e3e3e3"/>
<rect x="6.6" y="27.75" width="2.9" height="0.7" fill="#777"/>
<rect x="5.3" y="32.2" width="29.3" height="19.7" fill="#e1e1e1"/>
<text x="6.6" y="34.48" font-family="Liberation Sans" font-size="1.78" font-weight="bold" fill="#777" textLength="7.4" lengthAdjust="spacingAndGlyphs">Lorem ip</text>
<rect x="11.3" y="57.2" width="17.1" height="4.3" fill="#c4c4c4"/>
<text x="17.6" y="59.83" font-family="Liberation Sans" font-size="1.78" font-weight="bold" fill="#666" textLength="4.6" lengthAdjust="spacingAndGlyphs">Lorem</text>
<rect x="0.3" y="0.3" width="38.4" height="2.1" fill="#c9c9c9"/>
<rect x="1.4" y="0.8" width="5.2" height="0.9" fill="#777"/>
<rect x="17.9" y="0.8" width="3.2" height="0.9" fill="#666"/>
<rect x="31" y="0.75" width="2" height="1" fill="#555"/>
<rect x="34.2" y="0.75" width="3.2" height="1" fill="#666"/>
<rect x="0.35" y="0.35" width="38.3" height="69.1" fill="none" stroke="#a0a0a0" stroke-width="0.7"/>
</g>
<g transform="translate(581.2,360.7)">
<rect x="0.2" y="0.2" width="38.7" height="69.4" fill="#fcfcfc"/>
<rect x="0" y="2.2" width="39.1" height="5.4" fill="#e2e2e2"/>
<rect x="1.7" y="3.78" width="2.6" height="0.55" fill="#444"/>
<rect x="1.7" y="4.62" width="2.6" height="0.55" fill="#444"/>
<rect x="1.7" y="5.47" width="2.6" height="0.55" fill="#444"/>
<text x="13.05" y="5.67" font-family="Liberation Sans" font-size="2.15" font-weight="bold" fill="#5c5c5c" textLength="13" lengthAdjust="spacingAndGlyphs">LOREM IPSU</text>
<rect x="31.8" y="4" width="1.8" height="1.8" fill="#555"/>
<rect x="34.9" y="4" width="1.8" height="1.8" fill="#555"/>
<rect x="4.3" y="11.3" width="30.9" height="19.2" fill="#e1e1e1" rx="0.8"/>
<path d="M25.5,30.4 L28.5,30.4 L27.5,33 Z" fill="#e1e1e1" />
<rect x="5.2" y="9.9" width="1.7" height="2.5" fill="#333" rx="0.5"/>
<rect x="7.7" y="9.9" width="1.7" height="2.5" fill="#333" rx="0.5"/>
<text x="11" y="15.39" font-family="Liberation Sans" font-size="2.17" font-weight="bold" fill="#666" textLength="18" lengthAdjust="spacingAndGlyphs">Lorem ipsum dolor</text>
<text x="9" y="18.29" font-family="Liberation Sans" font-size="2.17" font-weight="bold" fill="#666" textLength="19" lengthAdjust="spacingAndGlyphs">Lorem ipsum dolor</text>
<text x="8.5" y="21.19" font-family="Liberation Sans" font-size="2.17" font-weight="bold" fill="#666" textLength="21.5" lengthAdjust="spacingAndGlyphs">Lorem ipsum dolor si</text>
<text x="7.5" y="24.09" font-family="Liberation Sans" font-size="2.17" font-weight="bold" fill="#666" textLength="23.5" lengthAdjust="spacingAndGlyphs">Lorem ipsum dolor sit</text>
<text x="10" y="26.99" font-family="Liberation Sans" font-size="2.17" font-weight="bold" fill="#666" textLength="18" lengthAdjust="spacingAndGlyphs">Lorem ipsum dolor</text>
<circle cx="19.6" cy="40.1" r="6.8" fill="#fff" stroke="#333" stroke-width="0.75"/>
<path d="M14.3,44.18 Q15.11,41.6 18.1,41.46 L19.6,44.32 L21.1,41.46 Q24.09,41.6 24.9,44.18" fill="none" stroke="#333" stroke-width="0.55" />
<line x1="19.6" y1="44.32" x2="19.6" y2="46.56" stroke="#333" stroke-width="0.4"/>
<circle cx="19.6" cy="38.4" r="2.45" fill="#fff" stroke="#333" stroke-width="0.55"/>
<path d="M17.02,38.06 Q17.15,35.2 19.6,35.34 Q22.05,35.2 22.18,38.06 Q19.6,36.56 17.02,38.06 Z" fill="#666" stroke="#333" stroke-width="0.3" />
<path d="M17.15,39.01 Q17.56,42.96 19.6,43.36 Q21.64,42.96 22.05,39.01 Q19.6,40.92 17.15,39.01 Z" fill="#7a7a7a" stroke="#333" stroke-width="0.35" />
<text x="14" y="51.82" font-family="Liberation Sans" font-size="2.29" font-weight="bold" fill="#555" textLength="11.2" lengthAdjust="spacingAndGlyphs">Lorem ipsu</text>
<text x="11" y="54.48" font-family="Liberation Sans" font-size="1.78" font-weight="bold" fill="#999" textLength="18" lengthAdjust="spacingAndGlyphs">Lorem ipsum dolor si</text>
<path d="M0,-2 L0.6,-0.65 L2,-0.5 L0.95,0.45 L1.25,1.9 L0,1.15 L-1.25,1.9 L-0.95,0.45 L-2,-0.5 L-0.6,-0.65 Z" transform="translate(10.7,59.6) scale(1)" fill="#444"/>
<path d="M0,-2 L0.6,-0.65 L2,-0.5 L0.95,0.45 L1.25,1.9 L0,1.15 L-1.25,1.9 L-0.95,0.45 L-2,-0.5 L-0.6,-0.65 Z" transform="translate(15,59.6) scale(1)" fill="#444"/>
<path d="M0,-2 L0.6,-0.65 L2,-0.5 L0.95,0.45 L1.25,1.9 L0,1.15 L-1.25,1.9 L-0.95,0.45 L-2,-0.5 L-0.6,-0.65 Z" transform="translate(19.6,59.6) scale(1)" fill="#444"/>
<path d="M0,-2 L0.6,-0.65 L2,-0.5 L0.95,0.45 L1.25,1.9 L0,1.15 L-1.25,1.9 L-0.95,0.45 L-2,-0.5 L-0.6,-0.65 Z" transform="translate(24.1,59.6) scale(1)" fill="#444"/>
<path d="M0,-2 L0.6,-0.65 L2,-0.5 L0.95,0.45 L1.25,1.9 L0,1.15 L-1.25,1.9 L-0.95,0.45 L-2,-0.5 L-0.6,-0.65 Z" transform="translate(28.4,59.6) scale(1)" fill="#444"/>
<circle cx="17" cy="65.3" r="0.4" fill="#ccc"/>
<circle cx="19.6" cy="65.3" r="0.5" fill="#666"/>
<circle cx="22.2" cy="65.3" r="0.4" fill="#ccc"/>
<rect x="0.3" y="0.3" width="38.5" height="2.1" fill="#c9c9c9"/>
<rect x="1.4" y="0.8" width="5.2" height="0.9" fill="#777"/>
<rect x="17.95" y="0.8" width="3.2" height="0.9" fill="#666"/>
<rect x="31.1" y="0.75" width="2" height="1" fill="#555"/>
<rect x="34.3" y="0.75" width="3.2" height="1" fill="#666"/>
<rect x="0.35" y="0.35" width="38.4" height="69.1" fill="none" stroke="#a0a0a0" stroke-width="0.7"/>
</g>
<g transform="translate(625,360.7)">
<rect x="0.2" y="0.2" width="38.5" height="69.4" fill="#fff"/>
<path d="M2,4.6 L3.4,6 M3.4,4.6 L2,6" fill="none" stroke="#555" stroke-width="0.45" />
<path d="M15.46,19.46 L14.3,23.81 L17.16,22.59 L18.86,23.68 L18.86,20.14" fill="#fff" stroke="#555" stroke-width="0.6" />
<path d="M22.94,19.46 L24.1,23.81 L21.24,22.59 L19.54,23.68 L19.54,20.14" fill="#fff" stroke="#555" stroke-width="0.6" />
<path d="M26,14.7 L24.91,16.23 L25.09,18.1 L23.38,18.88 L22.6,20.59 L20.73,20.41 L19.2,21.5 L17.67,20.41 L15.8,20.59 L15.02,18.88 L13.31,18.1 L13.49,16.23 L12.4,14.7 L13.49,13.17 L13.31,11.3 L15.02,10.52 L15.8,8.81 L17.67,8.99 L19.2,7.9 L20.73,8.99 L22.6,8.81 L23.38,10.52 L25.09,11.3 L24.91,13.17 Z" fill="#fff" stroke="#555" stroke-width="0.8" />
<circle cx="19.2" cy="14.7" r="4.22" fill="#fff" stroke="#555" stroke-width="0.6"/>
<circle cx="20.7" cy="12.93" r="0.61" fill="#444"/>
<circle cx="17.7" cy="14.7" r="0.61" fill="#444"/>
<circle cx="20.7" cy="16.47" r="0.61" fill="#444"/>
<path d="M20.7,12.93 L17.7,14.7 L20.7,16.47" fill="none" stroke="#444" stroke-width="0.45" />
<text x="19.4" y="28.8" font-family="Liberation Sans" font-size="2.9" fill="#777" font-weight="normal" font-style="normal" text-anchor="middle" textLength="32" lengthAdjust="spacingAndGlyphs">SHARE THE EXPERIENCE</text>
<text x="5" y="33.32" font-family="Liberation Sans" font-size="2.29" font-weight="bold" fill="#222" textLength="29" lengthAdjust="spacingAndGlyphs">Lorem ipsum dolor sit ame</text>
<text x="6.5" y="35.82" font-family="Liberation Sans" font-size="2.29" font-weight="bold" fill="#222" textLength="26.5" lengthAdjust="spacingAndGlyphs">Lorem ipsum dolor sit a</text>
<text x="8.5" y="38.22" font-family="Liberation Sans" font-size="2.29" font-weight="bold" fill="#222" textLength="22.5" lengthAdjust="spacingAndGlyphs">Lorem ipsum dolor si</text>
<circle cx="7.9" cy="47.6" r="4.1" fill="#dfdfdf"/>
<circle cx="19.3" cy="47.6" r="4.1" fill="#dfdfdf"/>
<circle cx="31" cy="47.6" r="4.1" fill="#dfdfdf"/>
<circle cx="7.9" cy="59.4" r="4.1" fill="#dfdfdf"/>
<circle cx="19.3" cy="59.4" r="4.1" fill="#dfdfdf"/>
<circle cx="31" cy="59.4" r="4.1" fill="#dfdfdf"/>
<path d="M8.5,45.6 Q7.5,45.6 7.6,46.8 L7.6,49.6 M6.9,47.3 L8.7,47.3" fill="none" stroke="#555" stroke-width="0.8" />
<path d="M17.4,48.9 Q20.9,49.5 21,46.8 L21.4,46.3 L20.7,46.2 Q19.7,45.6 19.2,47.2 Q18.1,47 17.5,46.2 Q17.2,47.8 18.1,48.4 Z" fill="#555" />
<rect x="29" y="46.8" width="2.2" height="1.6" fill="#666"/>
<rect x="31.8" y="47.3" width="1.4" height="0.6" fill="#666"/>
<circle cx="7.9" cy="59.2" r="1.3" fill="none" stroke="#555" stroke-width="0.7"/>
<line x1="7.6" y1="59.6" x2="7.2" y2="61.6" stroke="#555" stroke-width="0.6"/>
<path d="M17.8,58 L19.3,61 L20.8,58" fill="none" stroke="#555" stroke-width="0.9" />
<rect x="29.3" y="58.2" width="3.4" height="2.4" fill="#666" rx="0.3"/>
<circle cx="17" cy="66.4" r="0.5" fill="#555"/>
<circle cx="19.4" cy="66.4" r="0.4" fill="#ccc"/>
<circle cx="21.8" cy="66.4" r="0.4" fill="#ccc"/>
<rect x="0.3" y="0.3" width="38.3" height="2.1" fill="#c9c9c9"/>
<rect x="1.4" y="0.8" width="5.2" height="0.9" fill="#777"/>
<rect x="17.85" y="0.8" width="3.2" height="0.9" fill="#666"/>
<rect x="30.9" y="0.75" width="2" height="1" fill="#555"/>
<rect x="34.1" y="0.75" width="3.2" height="1" fill="#666"/>
<rect x="0.35" y="0.35" width="38.2" height="69.1" fill="none" stroke="#a0a0a0" stroke-width="0.7"/>
</g>
<g transform="translate(668.3,360.7)">
<rect x="0.2" y="0.2" width="38.5" height="69.4" fill="#fff"/>
<rect x="0" y="2.2" width="38.9" height="5.4" fill="#e2e2e2"/>
<rect x="1.7" y="3.78" width="2.6" height="0.55" fill="#444"/>
<rect x="1.7" y="4.62" width="2.6" height="0.55" fill="#444"/>
<rect x="1.7" y="5.47" width="2.6" height="0.55" fill="#444"/>
<text x="12.45" y="5.67" font-family="Liberation Sans" font-size="2.15" font-weight="bold" fill="#5c5c5c" textLength="14" lengthAdjust="spacingAndGlyphs">LOREM IPSU</text>
<circle cx="35.3" cy="4.7" r="0.8" fill="none" stroke="#555" stroke-width="0.45"/>
<line x1="35.9" y1="5.3" x2="36.6" y2="6" stroke="#555" stroke-width="0.5"/>
<circle cx="8" cy="19" r="0.35" fill="#d0d0d0"/>
<circle cx="10.5" cy="26" r="0.35" fill="#d0d0d0"/>
<circle cx="31.5" cy="18.5" r="0.35" fill="#d0d0d0"/>
<circle cx="33" cy="24" r="0.35" fill="#d0d0d0"/>
<circle cx="29.5" cy="29" r="0.35" fill="#d0d0d0"/>
<circle cx="7" cy="23.5" r="0.35" fill="#d0d0d0"/>
<circle cx="26" cy="16.5" r="0.35" fill="#d0d0d0"/>
<circle cx="13" cy="30" r="0.35" fill="#d0d0d0"/>
<text x="19.5" y="23.3" font-family="Liberation Sans" font-size="3" fill="#555" font-weight="normal" font-style="normal" text-anchor="middle" textLength="14.2" lengthAdjust="spacingAndGlyphs">Thank You!</text>
<text x="19.6" y="27.9" font-family="Liberation Sans" font-size="3.6" fill="#222" font-weight="bold" font-style="normal" text-anchor="middle" textLength="18.6" lengthAdjust="spacingAndGlyphs">JOHN DOE</text>
<text x="5.5" y="34.75" font-family="Liberation Sans" font-size="2.04" font-weight="bold" fill="#7a7a7a" textLength="28" lengthAdjust="spacingAndGlyphs">Lorem ipsum dolor sit amet</text>
<rect x="7.9" y="54" width="23.5" height="4.9" fill="#9a9a9a"/>
<text x="12.5" y="57" font-family="Liberation Sans" font-size="2.04" font-weight="bold" fill="#e0e0e0" textLength="14.5" lengthAdjust="spacingAndGlyphs">Lorem ipsum do</text>
<rect x="0.3" y="0.3" width="38.3" height="2.1" fill="#c9c9c9"/>
<rect x="1.4" y="0.8" width="5.2" height="0.9" fill="#777"/>
<rect x="17.85" y="0.8" width="3.2" height="0.9" fill="#666"/>
<rect x="30.9" y="0.75" width="2" height="1" fill="#555"/>
<rect x="34.1" y="0.75" width="3.2" height="1" fill="#666"/>
<rect x="0.35" y="0.35" width="38.2" height="69.1" fill="none" stroke="#a0a0a0" stroke-width="0.7"/>
</g>
<line x1="383.1" y1="459.9" x2="383.1" y2="468.9" stroke="#8c8c8c" stroke-width="0.6"/>
<rect x="365.65" y="455.4" width="34.6" height="4.5" fill="#fff" stroke="#adadad" stroke-width="0.55"/>
<text x="376.95" y="458.32" font-family="Liberation Sans" font-size="2.5" font-weight="bold" fill="#7c7c7c" textLength="12" lengthAdjust="spacingAndGlyphs">Lorem ipsu</text>
<rect x="367.25" y="457" width="2.6" height="1.3" fill="#555"/>
<g transform="translate(363.5,468.9)">
<rect x="0.2" y="0.2" width="39.6" height="69.4" fill="#fbfbfb"/>
<rect x="0" y="2.2" width="40" height="5.4" fill="#e2e2e2"/>
<rect x="1.7" y="3.78" width="2.6" height="0.55" fill="#444"/>
<rect x="1.7" y="4.62" width="2.6" height="0.55" fill="#444"/>
<rect x="1.7" y="5.47" width="2.6" height="0.55" fill="#444"/>
<text x="13" y="5.67" font-family="Liberation Sans" font-size="2.15" font-weight="bold" fill="#5c5c5c" textLength="14" lengthAdjust="spacingAndGlyphs">LOREM IPSU</text>
<rect x="32.7" y="4" width="1.8" height="1.8" fill="#555"/>
<rect x="35.8" y="4" width="1.8" height="1.8" fill="#555"/>
<rect x="0" y="7.6" width="40" height="17.2" fill="#ececec"/>
<circle cx="20" cy="16.5" r="4.2" fill="none" stroke="#444" stroke-width="0.8"/>
<path d="M18.8,14.5 L22.2,16.5 L18.8,18.5 Z" fill="#555" />
<circle cx="17.5" cy="27.3" r="0.4" fill="#ccc"/>
<circle cx="20" cy="27.3" r="0.5" fill="#555"/>
<circle cx="22.5" cy="27.3" r="0.4" fill="#ccc"/>
<rect x="2.3" y="29.9" width="35.7" height="8.8" fill="#e1e1e1"/>
<rect x="4.6" y="31.5" width="5.4" height="5.4" fill="none" rx="0.5" stroke="#555" stroke-width="0.7"/>
<line x1="4.6" y1="34.2" x2="10" y2="34.2" stroke="#555" stroke-width="0.4"/>
<line x1="6.8" y1="31.5" x2="6.8" y2="36.9" stroke="#555" stroke-width="0.4"/>
<text x="13" y="33.52" font-family="Liberation Sans" font-size="2.29" font-weight="bold" fill="#555" textLength="6" lengthAdjust="spacingAndGlyphs">Lorem</text>
<text x="13" y="36.15" font-family="Liberation Sans" font-size="2.04" font-weight="bold" fill="#777" textLength="14.5" lengthAdjust="spacingAndGlyphs">Lorem ipsum do</text>
<rect x="2.3" y="40.1" width="35.7" height="8.8" fill="#e1e1e1"/>
<rect x="4.6" y="41.7" width="5.4" height="5.4" fill="none" rx="0.5" stroke="#555" stroke-width="0.7"/>
<line x1="4.6" y1="44.4" x2="10" y2="44.4" stroke="#555" stroke-width="0.4"/>
<line x1="6.8" y1="41.7" x2="6.8" y2="47.1" stroke="#555" stroke-width="0.4"/>
<text x="13" y="43.72" font-family="Liberation Sans" font-size="2.29" font-weight="bold" fill="#555" textLength="6" lengthAdjust="spacingAndGlyphs">Lorem</text>
<text x="13" y="46.35" font-family="Liberation Sans" font-size="2.04" font-weight="bold" fill="#777" textLength="14.5" lengthAdjust="spacingAndGlyphs">Lorem ipsum do</text>
<rect x="2.3" y="50.6" width="35.7" height="8.8" fill="#e1e1e1"/>
<rect x="4.6" y="52.2" width="5.4" height="5.4" fill="none" rx="0.5" stroke="#555" stroke-width="0.7"/>
<line x1="4.6" y1="54.9" x2="10" y2="54.9" stroke="#555" stroke-width="0.4"/>
<line x1="6.8" y1="52.2" x2="6.8" y2="57.6" stroke="#555" stroke-width="0.4"/>
<text x="13" y="54.22" font-family="Liberation Sans" font-size="2.29" font-weight="bold" fill="#555" textLength="6" lengthAdjust="spacingAndGlyphs">Lorem</text>
<text x="13" y="56.85" font-family="Liberation Sans" font-size="2.04" font-weight="bold" fill="#777" textLength="14.5" lengthAdjust="spacingAndGlyphs">Lorem ipsum do</text>
<rect x="2.3" y="61" width="35.7" height="8.8" fill="#e1e1e1"/>
<rect x="4.6" y="62.6" width="5.4" height="5.4" fill="none" rx="0.5" stroke="#555" stroke-width="0.7"/>
<line x1="4.6" y1="65.3" x2="10" y2="65.3" stroke="#555" stroke-width="0.4"/>
<line x1="6.8" y1="62.6" x2="6.8" y2="68" stroke="#555" stroke-width="0.4"/>
<text x="13" y="64.62" font-family="Liberation Sans" font-size="2.29" font-weight="bold" fill="#555" textLength="6" lengthAdjust="spacingAndGlyphs">Lorem</text>
<text x="13" y="67.25" font-family="Liberation Sans" font-size="2.04" font-weight="bold" fill="#777" textLength="14.5" lengthAdjust="spacingAndGlyphs">Lorem ipsum do</text>
<rect x="0.3" y="0.3" width="39.4" height="2.1" fill="#c9c9c9"/>
<rect x="1.4" y="0.8" width="5.2" height="0.9" fill="#777"/>
<rect x="18.4" y="0.8" width="3.2" height="0.9" fill="#666"/>
<rect x="32" y="0.75" width="2" height="1" fill="#555"/>
<rect x="35.2" y="0.75" width="3.2" height="1" fill="#666"/>
<rect x="0.35" y="0.35" width="39.3" height="69.1" fill="none" stroke="#a0a0a0" stroke-width="0.7"/>
</g>
<line x1="448.35" y1="405.4" x2="448.35" y2="414" stroke="#8c8c8c" stroke-width="0.6"/>
<rect x="430.9" y="400.9" width="34.6" height="4.5" fill="#fff" stroke="#adadad" stroke-width="0.55"/>
<text x="444.2" y="403.82" font-family="Liberation Sans" font-size="2.5" font-weight="bold" fill="#7c7c7c" textLength="8" lengthAdjust="spacingAndGlyphs">Lorem</text>
<g transform="translate(429.4,414)">
<rect x="0.2" y="0.2" width="38.5" height="100.1" fill="#fafafa"/>
<rect x="0" y="2.2" width="38.9" height="5.4" fill="#e2e2e2"/>
<path d="M3.8,3.9 L2.6,4.9 L3.8,5.9 M2.6,4.9 L5,4.9" fill="none" stroke="#555" stroke-width="0.5" />
<text x="15.45" y="5.67" font-family="Liberation Sans" font-size="2.15" font-weight="bold" fill="#5c5c5c" textLength="8" lengthAdjust="spacingAndGlyphs">LOREM</text>
<path d="M34.5,4.9 L36.3,3.9 M34.5,4.9 L36.3,5.9" fill="none" stroke="#555" stroke-width="0.5" />
<rect x="0" y="7.6" width="38.9" height="38.6" fill="#ececec"/>
<rect x="12.7" y="17" width="12.8" height="10.2" fill="none" rx="1.2" stroke="#8c8c8c" stroke-width="0.8"/>
<circle cx="16.2" cy="20.2" r="1.2" fill="none" stroke="#8c8c8c" stroke-width="0.6"/>
<path d="M13.2,26 L17.5,22.6 L19.5,24.4 L22,21.8 L25,25" fill="none" stroke="#8c8c8c" stroke-width="0.7" />
<rect x="8.4" y="39.6" width="4.2" height="4.2" fill="#9c9c9c"/>
<rect x="14" y="39.6" width="4.2" height="4.2" fill="#d2d2d2"/>
<rect x="19.5" y="39.6" width="4.2" height="4.2" fill="#d2d2d2"/>
<rect x="25" y="39.6" width="4.2" height="4.2" fill="#d2d2d2"/>
<text x="9.5" y="49.52" font-family="Liberation Sans" font-size="2.29" font-weight="bold" fill="#555" textLength="19.5" lengthAdjust="spacingAndGlyphs">Lorem ipsum dolor</text>
<text x="16" y="52.55" font-family="Liberation Sans" font-size="2.04" font-weight="bold" fill="#999" textLength="7" lengthAdjust="spacingAndGlyphs">Lorem i</text>
<circle cx="6.3" cy="57.7" r="1.9" fill="#e2e2e2"/>
<circle cx="12.7" cy="57.7" r="2" fill="#c8c8c8" stroke="#444" stroke-width="0.6"/>
<circle cx="19" cy="57.7" r="1.9" fill="#e2e2e2"/>
<circle cx="25.3" cy="57.7" r="1.9" fill="#e2e2e2"/>
<circle cx="31.6" cy="57.7" r="1.9" fill="#e2e2e2"/>
<text x="3.4" y="63.92" font-family="Liberation Sans" font-size="2.29" font-weight="bold" fill="#444" textLength="29.6" lengthAdjust="spacingAndGlyphs">Lorem ipsum dolor sit amet</text>
<text x="3.4" y="65.92" font-family="Liberation Sans" font-size="2.29" font-weight="bold" fill="#444" textLength="30.6" lengthAdjust="spacingAndGlyphs">Lorem ipsum dolor sit amet</text>
<text x="3.4" y="67.92" font-family="Liberation Sans" font-size="2.29" font-weight="bold" fill="#444" textLength="26.1" lengthAdjust="spacingAndGlyphs">Lorem ipsum dolor sit a</text>
<text x="3.4" y="70.02" font-family="Liberation Sans" font-size="2.29" font-weight="bold" fill="#444" textLength="28.6" lengthAdjust="spacingAndGlyphs">Lorem ipsum dolor sit ame</text>
<text x="3.4" y="72.02" font-family="Liberation Sans" font-size="2.29" font-weight="bold" fill="#444" textLength="18.6" lengthAdjust="spacingAndGlyphs">Lorem ipsum dolo</text>
<circle cx="7.2" cy="76" r="0.35" fill="#444"/>
<text x="8.8" y="76.55" font-family="Liberation Sans" font-size="2.04" font-weight="bold" fill="#444" textLength="13.2" lengthAdjust="spacingAndGlyphs">Lorem ipsum d</text>
<circle cx="7.2" cy="78.5" r="0.35" fill="#444"/>
<text x="8.8" y="79.05" font-family="Liberation Sans" font-size="2.04" font-weight="bold" fill="#444" textLength="12.2" lengthAdjust="spacingAndGlyphs">Lorem ipsum</text>
<circle cx="7.2" cy="81" r="0.35" fill="#444"/>
<text x="8.8" y="81.55" font-family="Liberation Sans" font-size="2.04" font-weight="bold" fill="#444" textLength="11.2" lengthAdjust="spacingAndGlyphs">Lorem ipsum</text>
<rect x="2" y="87.8" width="9.4" height="4.2" fill="#dadada"/>
<text x="3.5" y="90.38" font-family="Liberation Sans" font-size="1.78" font-weight="bold" fill="#666" textLength="4.9" lengthAdjust="spacingAndGlyphs">Lorem</text>
<path d="M9.4,89.5 l0.9,0 l-0.45,0.7 Z" fill="#555" />
<rect x="13.4" y="87.8" width="10.6" height="4.2" fill="#dadada"/>
<text x="14.9" y="90.38" font-family="Liberation Sans" font-size="1.78" font-weight="bold" fill="#666" textLength="6.1" lengthAdjust="spacingAndGlyphs">Lorem i</text>
<path d="M22,89.5 l0.9,0 l-0.45,0.7 Z" fill="#555" />
<rect x="26" y="87.8" width="10.2" height="4.2" fill="#dadada"/>
<text x="27.5" y="90.38" font-family="Liberation Sans" font-size="1.78" font-weight="bold" fill="#666" textLength="5.7" lengthAdjust="spacingAndGlyphs">Lorem</text>
<path d="M34.2,89.5 l0.9,0 l-0.45,0.7 Z" fill="#555" />
<rect x="1.3" y="94.2" width="17.7" height="3.9" fill="#c4c4c4"/>
<text x="4.5" y="96.7" font-family="Liberation Sans" font-size="2.04" font-weight="bold" fill="#555" textLength="11" lengthAdjust="spacingAndGlyphs">Lorem ipsum</text>
<rect x="21" y="94.2" width="15.7" height="3.9" fill="#e4e4e4"/>
<text x="25.5" y="96.7" font-family="Liberation Sans" font-size="2.04" font-weight="bold" fill="#666" textLength="6.5" lengthAdjust="spacingAndGlyphs">Lorem</text>
<rect x="0.3" y="0.3" width="38.3" height="2.1" fill="#c9c9c9"/>
<rect x="1.4" y="0.8" width="5.2" height="0.9" fill="#777"/>
<rect x="17.85" y="0.8" width="3.2" height="0.9" fill="#666"/>
<rect x="30.9" y="0.75" width="2" height="1" fill="#555"/>
<rect x="34.1" y="0.75" width="3.2" height="1" fill="#666"/>
<rect x="0.35" y="0.35" width="38.2" height="99.8" fill="none" stroke="#a0a0a0" stroke-width="0.7"/>
</g>
<rect x="495.3" y="524" width="36.6" height="4.5" fill="#fff" stroke="#adadad" stroke-width="0.55"/>
<text x="505.1" y="526.92" font-family="Liberation Sans" font-size="2.5" font-weight="bold" fill="#7c7c7c" textLength="17" lengthAdjust="spacingAndGlyphs">Lorem ipsum do</text>
<rect x="496.9" y="525.6" width="2.6" height="1.3" fill="#555"/>
<rect x="527.7" y="525.6" width="2.4" height="1.3" fill="#666"/>
<g transform="translate(439.2,534.8)">
<rect x="0.2" y="0.2" width="71.2" height="40.6" fill="#fff"/>
<text x="35.8" y="9.3" font-family="Liberation Sans" font-size="3.4" fill="#333" font-weight="bold" font-style="normal" text-anchor="middle" textLength="26.4" lengthAdjust="spacingAndGlyphs">WELCOME BACK!</text>
<ellipse cx="35.7" cy="19.3" rx="1.2" ry="1.5" fill="none" stroke="#444" stroke-width="0.55" stroke-dasharray="2.2 0.7"/>
<ellipse cx="35.7" cy="19.6" rx="2.2" ry="2.7" fill="none" stroke="#444" stroke-width="0.55" stroke-dasharray="3.5 0.8999999999999999"/>
<ellipse cx="35.7" cy="19.900000000000002" rx="3.3" ry="3.9" fill="none" stroke="#444" stroke-width="0.55" stroke-dasharray="4.800000000000001 1.1"/>
<ellipse cx="35.7" cy="20.2" rx="4.4" ry="5.1" fill="none" stroke="#444" stroke-width="0.55" stroke-dasharray="6.1000000000000005 1.3"/>
<text x="14.1" y="31.22" font-family="Liberation Sans" font-size="2.29" font-weight="bold" fill="#555" textLength="43.6" lengthAdjust="spacingAndGlyphs">Lorem ipsum dolor sit amet consectetur</text>
<circle cx="35.7" cy="35.8" r="2.2" fill="none" stroke="#777" stroke-width="0.6"/>
<circle cx="35.7" cy="35.8" r="1.1" fill="none" stroke="#999" stroke-width="0.4"/>
<rect x="0.3" y="0.3" width="71" height="2.1" fill="#c9c9c9"/>
<rect x="1.4" y="0.8" width="5.2" height="0.9" fill="#777"/>
<rect x="34.2" y="0.8" width="3.2" height="0.9" fill="#666"/>
<rect x="63.6" y="0.75" width="2" height="1" fill="#555"/>
<rect x="66.8" y="0.75" width="3.2" height="1" fill="#666"/>
<rect x="0.35" y="0.35" width="70.9" height="40.3" fill="none" stroke="#a0a0a0" stroke-width="0.7"/>
</g>
<g transform="translate(515.4,534.8)">
<rect x="0.2" y="0.2" width="71.8" height="40.6" fill="#ececec"/>
<path d="M5,4.8 L3.9,5.8 L5,6.8" fill="none" stroke="#666" stroke-width="0.5" />
<text x="7.2" y="6.42" font-family="Liberation Sans" font-size="2.29" font-weight="bold" fill="#a0a0a0" textLength="17.8" lengthAdjust="spacingAndGlyphs">Lorem ipsum dolo</text>
<circle cx="56.8" cy="5.4" r="0.8" fill="none" stroke="#444" stroke-width="0.45"/>
<line x1="57.4" y1="6" x2="58.1" y2="6.7" stroke="#444" stroke-width="0.5"/>
<path d="M61.5,6.4 L63.8,5 L62.4,4.6 M63.8,5 L63.4,6.4" fill="none" stroke="#444" stroke-width="0.6" />
<circle cx="68.5" cy="4.8" r="0.3" fill="#444"/>
<circle cx="68.5" cy="5.8" r="0.3" fill="#444"/>
<circle cx="68.5" cy="6.8" r="0.3" fill="#444"/>
<path d="M33.6,18.3 L38.6,21.2 L33.6,24.1 Z" fill="#333" />
<path d="M24.3,20.2 L22.6,21.2 L24.3,22.2 Z" fill="#555" />
<rect x="21.9" y="20.2" width="0.5" height="2" fill="#555"/>
<path d="M47.8,20.2 L49.5,21.2 L47.8,22.2 Z" fill="#555" />
<rect x="49.7" y="20.2" width="0.5" height="2" fill="#555"/>
<rect x="1.8" y="36.5" width="2.4" height="0.8" fill="#888"/>
<rect x="62.5" y="36.5" width="2.8" height="0.8" fill="#888"/>
<rect x="67.8" y="36.1" width="1.6" height="1.6" fill="#555"/>
<line x1="6.3" y1="36.9" x2="61.7" y2="36.9" stroke="#c0c0c0" stroke-width="0.5"/>
<line x1="6.3" y1="36.9" x2="15.5" y2="36.9" stroke="#666" stroke-width="0.6"/>
<circle cx="15.5" cy="36.9" r="0.8" fill="#444"/>
<rect x="0.3" y="0.3" width="71.6" height="2.1" fill="#c9c9c9"/>
<rect x="1.4" y="0.8" width="5.2" height="0.9" fill="#777"/>
<rect x="34.5" y="0.8" width="3.2" height="0.9" fill="#666"/>
<rect x="64.2" y="0.75" width="2" height="1" fill="#555"/>
<rect x="67.4" y="0.75" width="3.2" height="1" fill="#666"/>
<rect x="0.35" y="0.35" width="71.5" height="40.3" fill="none" stroke="#a0a0a0" stroke-width="0.7"/>
</g>
<g transform="translate(644.2,504.5)">
<rect x="0.2" y="0.2" width="39.1" height="69.4" fill="#fff"/>
<rect x="0" y="2.2" width="39.5" height="5.4" fill="#e2e2e2"/>
<rect x="1.7" y="3.78" width="2.6" height="0.55" fill="#444"/>
<rect x="1.7" y="4.62" width="2.6" height="0.55" fill="#444"/>
<rect x="1.7" y="5.47" width="2.6" height="0.55" fill="#444"/>
<text x="12.75" y="5.67" font-family="Liberation Sans" font-size="2.15" font-weight="bold" fill="#5c5c5c" textLength="14" lengthAdjust="spacingAndGlyphs">LOREM IPSU</text>
<path d="M35.1,4.9 L36.9,3.9 M35.1,4.9 L36.9,5.9" fill="none" stroke="#555" stroke-width="0.5" />
<circle cx="8.5" cy="13.4" r="3.8" fill="#fff" stroke="#555" stroke-width="0.6"/>
<circle cx="7.2" cy="12.6" r="0.4" fill="#444"/>
<circle cx="9.8" cy="12.6" r="0.4" fill="#444"/>
<path d="M6.8,15.4 Q8.5,13.7 10.2,15.4" fill="none" stroke="#444" stroke-width="0.5" />
<text x="16.8" y="14.3" font-family="Liberation Sans" font-size="2.55" fill="#4a4a4a" font-weight="normal" font-style="normal" text-anchor="start" textLength="9" lengthAdjust="spacingAndGlyphs">Disgusted</text>
<path d="M33,12.3 L34.2,13.4 L33,14.5" fill="none" stroke="#666" stroke-width="0.5" />
<line x1="0" y1="19.7" x2="39.5" y2="19.7" stroke="#e2e2e2" stroke-width="0.4"/>
<circle cx="8.5" cy="25.8" r="3.8" fill="#fff" stroke="#555" stroke-width="0.6"/>
<circle cx="7.2" cy="25" r="0.4" fill="#444"/>
<circle cx="9.8" cy="25" r="0.4" fill="#444"/>
<path d="M6.9,27.6 Q8.5,26.6 10.1,27.6" fill="none" stroke="#444" stroke-width="0.5" />
<text x="16.8" y="26.7" font-family="Liberation Sans" font-size="2.55" fill="#4a4a4a" font-weight="normal" font-style="normal" text-anchor="start" textLength="5.7" lengthAdjust="spacingAndGlyphs">Angry</text>
<path d="M33,24.7 L34.2,25.8 L33,26.9" fill="none" stroke="#666" stroke-width="0.5" />
<line x1="0" y1="31.8" x2="39.5" y2="31.8" stroke="#e2e2e2" stroke-width="0.4"/>
<circle cx="8.5" cy="37.9" r="3.8" fill="#fff" stroke="#555" stroke-width="0.6"/>
<circle cx="7.2" cy="37.1" r="0.4" fill="#444"/>
<circle cx="9.8" cy="37.1" r="0.4" fill="#444"/>
<path d="M7,39.4 L10,39.4" fill="none" stroke="#444" stroke-width="0.5" />
<text x="16.8" y="38.8" font-family="Liberation Sans" font-size="2.55" fill="#4a4a4a" font-weight="normal" font-style="normal" text-anchor="start" textLength="6.7" lengthAdjust="spacingAndGlyphs">Neutral</text>
<path d="M33,36.8 L34.2,37.9 L33,39" fill="none" stroke="#666" stroke-width="0.5" />
<line x1="0" y1="44.2" x2="39.5" y2="44.2" stroke="#e2e2e2" stroke-width="0.4"/>
<circle cx="8.5" cy="50.3" r="3.8" fill="#fff" stroke="#555" stroke-width="0.6"/>
<circle cx="7.2" cy="49.5" r="0.4" fill="#444"/>
<circle cx="9.8" cy="49.5" r="0.4" fill="#444"/>
<path d="M6.9,51.5 Q8.5,52.5 10.1,51.5" fill="none" stroke="#444" stroke-width="0.5" />
<text x="16.8" y="51.2" font-family="Liberation Sans" font-size="2.55" fill="#4a4a4a" font-weight="normal" font-style="normal" text-anchor="start" textLength="8.4" lengthAdjust="spacingAndGlyphs">Amazed</text>
<path d="M33,49.2 L34.2,50.3 L33,51.4" fill="none" stroke="#666" stroke-width="0.5" />
<line x1="0" y1="56.4" x2="39.5" y2="56.4" stroke="#e2e2e2" stroke-width="0.4"/>
<circle cx="8.5" cy="62.5" r="3.8" fill="#fff" stroke="#555" stroke-width="0.6"/>
<circle cx="7.2" cy="61.7" r="0.4" fill="#444"/>
<circle cx="9.8" cy="61.7" r="0.4" fill="#444"/>
<path d="M6.8,64.6 Q8.5,62.7 10.2,64.6" fill="none" stroke="#444" stroke-width="0.5" />
<text x="16.8" y="63.4" font-family="Liberation Sans" font-size="2.55" fill="#4a4a4a" font-weight="normal" font-style="normal" text-anchor="start" textLength="9" lengthAdjust="spacingAndGlyphs">Delighted</text>
<path d="M33,61.4 L34.2,62.5 L33,63.6" fill="none" stroke="#666" stroke-width="0.5" />
<rect x="0.3" y="0.3" width="38.9" height="2.1" fill="#c9c9c9"/>
<rect x="1.4" y="0.8" width="5.2" height="0.9" fill="#777"/>
<rect x="18.15" y="0.8" width="3.2" height="0.9" fill="#666"/>
<rect x="31.5" y="0.75" width="2" height="1" fill="#555"/>
<rect x="34.7" y="0.75" width="3.2" height="1" fill="#666"/>
<rect x="0.35" y="0.35" width="38.8" height="69.1" fill="none" stroke="#a0a0a0" stroke-width="0.7"/>
</g>
<line x1="752.85" y1="453" x2="752.85" y2="461.5" stroke="#8c8c8c" stroke-width="0.6"/>
<rect x="735.4" y="448.5" width="34.6" height="4.5" fill="#fff" stroke="#adadad" stroke-width="0.55"/>
<text x="743.7" y="451.42" font-family="Liberation Sans" font-size="2.5" font-weight="bold" fill="#7c7c7c" textLength="18" lengthAdjust="spacingAndGlyphs">Lorem ipsum do</text>
<rect x="737" y="450.1" width="2.6" height="1.3" fill="#555"/>
<g transform="translate(733.2,461.5)">
<rect x="0.2" y="0.2" width="39.1" height="69.4" fill="#fff"/>
<path d="M15.99,26.37 L14.79,30.91 L17.77,29.64 L19.54,30.77 L19.54,27.08" fill="#fff" stroke="#444" stroke-width="0.6" />
<path d="M23.8,26.37 L25.01,30.91 L22.03,29.64 L20.25,30.77 L20.25,27.08" fill="#fff" stroke="#444" stroke-width="0.6" />
<path d="M27,21.4 L25.87,23 L26.05,24.95 L24.27,25.77 L23.45,27.55 L21.5,27.37 L19.9,28.5 L18.3,27.37 L16.35,27.55 L15.53,25.77 L13.75,24.95 L13.93,23 L12.8,21.4 L13.93,19.8 L13.75,17.85 L15.53,17.03 L16.35,15.25 L18.3,15.43 L19.9,14.3 L21.5,15.43 L23.45,15.25 L24.27,17.03 L26.05,17.85 L25.87,19.8 Z" fill="#fff" stroke="#444" stroke-width="0.8" />
<circle cx="19.9" cy="21.4" r="4.4" fill="#fff" stroke="#444" stroke-width="0.6"/>
<path d="M17.77,21.54 L19.33,23.17 L22.17,19.62" fill="none" stroke="#333" stroke-width="1" />
<circle cx="8" cy="16" r="0.35" fill="#cdcdcd"/>
<circle cx="9.5" cy="26" r="0.35" fill="#cdcdcd"/>
<circle cx="31.5" cy="15.5" r="0.35" fill="#cdcdcd"/>
<circle cx="32" cy="25" r="0.35" fill="#cdcdcd"/>
<circle cx="12" cy="12.5" r="0.35" fill="#cdcdcd"/>
<circle cx="28" cy="30.5" r="0.35" fill="#cdcdcd"/>
<circle cx="6.5" cy="21" r="0.35" fill="#cdcdcd"/>
<text x="14" y="37.02" font-family="Liberation Sans" font-size="2.29" font-weight="bold" fill="#666" textLength="12" lengthAdjust="spacingAndGlyphs">Lorem ipsu</text>
<text x="8.5" y="40.85" font-family="Liberation Sans" font-size="2.04" font-weight="bold" fill="#555" textLength="23" lengthAdjust="spacingAndGlyphs">Lorem ipsum dolor sit a</text>
<text x="4.5" y="44.05" font-family="Liberation Sans" font-size="2.04" font-weight="bold" fill="#555" textLength="31" lengthAdjust="spacingAndGlyphs">Lorem ipsum dolor sit amet con</text>
<rect x="7" y="53.2" width="25.3" height="5.1" fill="#9a9a9a"/>
<text x="11" y="56.3" font-family="Liberation Sans" font-size="2.04" font-weight="bold" fill="#e4e4e4" textLength="17.5" lengthAdjust="spacingAndGlyphs">Lorem ipsum dolor</text>
<rect x="0.3" y="0.3" width="38.9" height="2.1" fill="#c9c9c9"/>
<rect x="1.4" y="0.8" width="5.2" height="0.9" fill="#777"/>
<rect x="18.15" y="0.8" width="3.2" height="0.9" fill="#666"/>
<rect x="31.5" y="0.75" width="2" height="1" fill="#555"/>
<rect x="34.7" y="0.75" width="3.2" height="1" fill="#666"/>
<rect x="0.35" y="0.35" width="38.8" height="69.1" fill="none" stroke="#a0a0a0" stroke-width="0.7"/>
</g>
<path d="M6,6.9 L13.8,14.7 M294,6.5 L286.2,14.3 M274,26.5 L266.2,34.3 M254,46.5 L246.2,54.3 M234,66.5 L226.2,74.3 M226,226.9 L233.8,234.7 M246,246.9 L253.8,254.7 M266,266.9 L273.8,274.7 M286,286.9 L293.8,294.7 M14,286.5 L6.2,294.3 M6,306.9 L13.8,314.7 M294,306.5 L286.2,314.3 M274,326.5 L266.2,334.3 M254,346.5 L246.2,354.3 M234,366.5 L226.2,374.3 M226,526.9 L233.8,534.7 M246,546.9 L253.8,554.7 M266,566.9 L273.8,574.7 M286,586.9 L293.8,594.7 M14,586.5 L6.2,594.3 M306,6.9 L313.8,14.7 M594,6.5 L586.2,14.3 M326,26.9 L333.8,34.7 M574,26.5 L566.2,34.3 M346,46.9 L353.8,54.7 M554,46.5 L546.2,54.3 M366,66.9 L373.8,74.7 M534,66.5 L526.2,74.3 M386,86.9 L393.8,94.7 M514,86.5 L506.2,94.3 M406,106.9 L413.8,114.7 M494,106.5 L486.2,114.3 M426,126.9 L433.8,134.7 M474,126.5 L466.2,134.3 M454,146.5 L446.2,154.3 M466,166.9 L473.8,174.7 M434,166.5 L426.2,174.3 M486,186.9 L493.8,194.7 M414,186.5 L406.2,194.3 M506,206.9 L513.8,214.7 M394,206.5 L386.2,214.3 M526,226.9 L533.8,234.7 M374,226.5 L366.2,234.3 M546,246.9 L553.8,254.7 M354,246.5 L346.2,254.3 M566,266.9 L573.8,274.7 M334,266.5 L326.2,274.3 M586,286.9 L593.8,294.7 M314,286.5 L306.2,294.3 M306,306.9 L313.8,314.7 M594,306.5 L586.2,314.3 M326,326.9 L333.8,334.7 M574,326.5 L566.2,334.3 M346,346.9 L353.8,354.7 M554,346.5 L546.2,354.3 M366,366.9 L373.8,374.7 M534,366.5 L526.2,374.3 M386,386.9 L393.8,394.7 M514,386.5 L506.2,394.3 M406,406.9 L413.8,414.7 M494,406.5 L486.2,414.3 M426,426.9 L433.8,434.7 M474,426.5 L466.2,434.3 M454,446.5 L446.2,454.3 M466,466.9 L473.8,474.7 M434,466.5 L426.2,474.3 M486,486.9 L493.8,494.7 M414,486.5 L406.2,494.3 M506,506.9 L513.8,514.7 M394,506.5 L386.2,514.3 M526,526.9 L533.8,534.7 M374,526.5 L366.2,534.3 M546,546.9 L553.8,554.7 M354,546.5 L346.2,554.3 M566,566.9 L573.8,574.7 M334,566.5 L326.2,574.3 M586,586.9 L593.8,594.7 M314,586.5 L306.2,594.3 M606,6.9 L613.8,14.7 M894,6.5 L886.2,14.3 M626,26.9 L633.8,34.7 M874,26.5 L866.2,34.3 M646,46.9 L653.8,54.7 M854,46.5 L846.2,54.3 M666,66.9 L673.8,74.7 M834,66.5 L826.2,74.3 M686,86.9 L693.8,94.7 M814,86.5 L806.2,94.3 M706,106.9 L713.8,114.7 M794,106.5 L786.2,114.3 M726,126.9 L733.8,134.7 M774,126.5 L766.2,134.3 M754,146.5 L746.2,154.3 M766,166.9 L773.8,174.7 M734,166.5 L726.2,174.3 M786,186.9 L793.8,194.7 M714,186.5 L706.2,194.3 M806,206.9 L813.8,214.7 M694,206.5 L686.2,214.3 M826,226.9 L833.8,234.7 M674,226.5 L666.2,234.3 M846,246.9 L853.8,254.7 M654,246.5 L646.2,254.3 M866,266.9 L873.8,274.7 M634,266.5 L626.2,274.3 M886,286.9 L893.8,294.7 M614,286.5 L606.2,294.3 M606,306.9 L613.8,314.7 M894,306.5 L886.2,314.3 M626,326.9 L633.8,334.7 M874,326.5 L866.2,334.3 M646,346.9 L653.8,354.7 M854,346.5 L846.2,354.3 M666,366.9 L673.8,374.7 M834,366.5 L826.2,374.3 M686,386.9 L693.8,394.7 M814,386.5 L806.2,394.3 M706,406.9 L713.8,414.7 M794,406.5 L786.2,414.3 M726,426.9 L733.8,434.7 M774,426.5 L766.2,434.3 M754,446.5 L746.2,454.3 M766,466.9 L773.8,474.7 M734,466.5 L726.2,474.3 M786,486.9 L793.8,494.7 M714,486.5 L706.2,494.3 M806,506.9 L813.8,514.7 M694,506.5 L686.2,514.3 M826,526.9 L833.8,534.7 M674,526.5 L666.2,534.3 M846,546.9 L853.8,554.7 M654,546.5 L646.2,554.3 M866,566.9 L873.8,574.7 M634,566.5 L626.2,574.3 M886,586.9 L893.8,594.7 M614,586.5 L606.2,594.3" stroke="#929292" stroke-opacity="0.6" stroke-width="0.65" fill="none"/>
<path d="M26,26.9 L33.8,34.7 M46,46.9 L53.8,54.7 M66,66.9 L73.8,74.7 M86,86.9 L93.8,94.7 M214,86.5 L206.2,94.3 M106,106.9 L113.8,114.7 M194,106.5 L186.2,114.3 M126,126.9 L133.8,134.7 M174,126.5 L166.2,134.3 M154,146.5 L146.2,154.3 M166,166.9 L173.8,174.7 M134,166.5 L126.2,174.3 M186,186.9 L193.8,194.7 M114,186.5 L106.2,194.3 M206,206.9 L213.8,214.7 M94,206.5 L86.2,214.3 M74,226.5 L66.2,234.3 M54,246.5 L46.2,254.3 M34,266.5 L26.2,274.3 M26,326.9 L33.8,334.7 M46,346.9 L53.8,354.7 M66,366.9 L73.8,374.7 M86,386.9 L93.8,394.7 M214,386.5 L206.2,394.3 M106,406.9 L113.8,414.7 M194,406.5 L186.2,414.3 M126,426.9 L133.8,434.7 M174,426.5 L166.2,434.3 M154,446.5 L146.2,454.3 M166,466.9 L173.8,474.7 M134,466.5 L126.2,474.3 M186,486.9 L193.8,494.7 M114,486.5 L106.2,494.3 M206,506.9 L213.8,514.7 M94,506.5 L86.2,514.3 M74,526.5 L66.2,534.3 M54,546.5 L46.2,554.3 M34,566.5 L26.2,574.3" stroke="#ffffff" stroke-opacity="0.36" stroke-width="0.7" fill="none"/>
<g opacity="0.165" fill="#ffffff" stroke="#ffffff" stroke-width="0.7">
<path stroke="none" d="M113.6,141.7 C117.4,144.9 117.2,156.2 110,157 C104.3,157.2 102.2,151.2 105.8,147 C108.2,144.2 111.2,142.9 113.6,141.7 Z"/>
<text x="119.1" y="156.3" font-family="Liberation Sans" font-size="23.2" textLength="73.6" lengthAdjust="spacingAndGlyphs">envato</text>
</g>
<g opacity="0.15" fill="#8a8a8a" stroke="#8a8a8a" stroke-width="0.7">
<path stroke="none" d="M414,141.7 C417.8,144.9 417.6,156.2 410.4,157 C404.7,157.2 402.6,151.2 406.2,147 C408.6,144.2 411.6,142.9 414,141.7 Z"/>
<text x="419.5" y="156.3" font-family="Liberation Sans" font-size="23.2" textLength="73.6" lengthAdjust="spacingAndGlyphs">envato</text>
</g>
<g opacity="0.15" fill="#8a8a8a" stroke="#8a8a8a" stroke-width="0.7">
<path stroke="none" d="M713.6,141.7 C717.4,144.9 717.2,156.2 710,157 C704.3,157.2 702.2,151.2 705.8,147 C708.2,144.2 711.2,142.9 713.6,141.7 Z"/>
<text x="719.1" y="156.3" font-family="Liberation Sans" font-size="23.2" textLength="73.6" lengthAdjust="spacingAndGlyphs">envato</text>
</g>
<g opacity="0.165" fill="#ffffff" stroke="#ffffff" stroke-width="0.7">
<path stroke="none" d="M113.6,441.7 C117.4,444.9 117.2,456.2 110,457 C104.3,457.2 102.2,451.2 105.8,447 C108.2,444.2 111.2,442.9 113.6,441.7 Z"/>
<text x="119.1" y="456.3" font-family="Liberation Sans" font-size="23.2" textLength="73.6" lengthAdjust="spacingAndGlyphs">envato</text>
</g>
<g opacity="0.15" fill="#8a8a8a" stroke="#8a8a8a" stroke-width="0.7">
<path stroke="none" d="M414,441.7 C417.8,444.9 417.6,456.2 410.4,457 C404.7,457.2 402.6,451.2 406.2,447 C408.6,444.2 411.6,442.9 414,441.7 Z"/>
<text x="419.5" y="456.3" font-family="Liberation Sans" font-size="23.2" textLength="73.6" lengthAdjust="spacingAndGlyphs">envato</text>
</g>
<g opacity="0.15" fill="#8a8a8a" stroke="#8a8a8a" stroke-width="0.7">
<path stroke="none" d="M713.6,441.7 C717.4,444.9 717.2,456.2 710,457 C704.3,457.2 702.2,451.2 705.8,447 C708.2,444.2 711.2,442.9 713.6,441.7 Z"/>
<text x="719.1" y="456.3" font-family="Liberation Sans" font-size="23.2" textLength="73.6" lengthAdjust="spacingAndGlyphs">envato</text>
</g>
</svg>
</body></html>
